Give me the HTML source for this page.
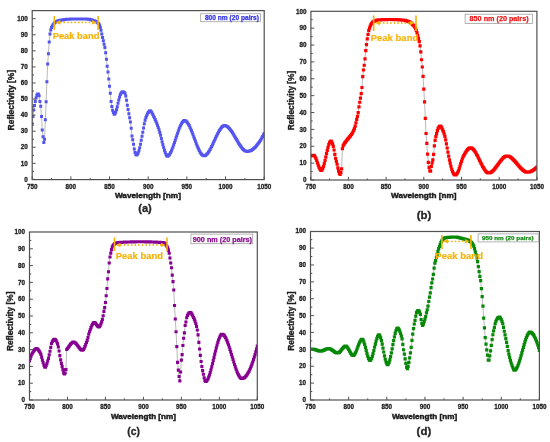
<!DOCTYPE html><html><head><meta charset="utf-8"><title>DBR reflectivity spectra</title><style>html,body{margin:0;padding:0;background:#fff;}svg{display:block;}</style></head><body>
<svg width="550" height="442" viewBox="0 0 550 442" font-family="Liberation Sans, Arial, sans-serif">
<rect width="550" height="442" fill="#fff"/>
<g id="panel-a">
<clipPath id="clip-a"><rect x="32.2" y="10.6" width="232.00" height="169.00"/></clipPath>
<g clip-path="url(#clip-a)">
<polyline points="32.20,124.50 32.97,116.53 33.75,110.12 34.52,105.52 35.29,101.51 36.07,97.90 36.84,95.32 37.61,93.90 38.39,93.90 39.16,95.84 39.93,101.44 40.71,106.35 41.48,116.57 42.25,129.93 43.03,136.87 43.80,142.45 44.57,139.29 45.35,119.85 46.12,101.71 46.89,81.76 47.67,64.07 48.44,53.73 49.21,41.95 49.99,33.90 50.76,29.94 51.53,27.61 52.31,26.04 53.08,24.83 53.85,23.74 54.63,22.83 55.40,22.20 56.17,21.77 56.95,21.40 57.72,21.08 58.49,20.80 59.27,20.57 60.04,20.37 60.81,20.20 61.59,20.04 62.36,19.90 63.13,19.77 63.91,19.65 64.68,19.55 65.45,19.45 66.23,19.37 67.00,19.31 67.77,19.25 68.55,19.19 69.32,19.14 70.09,19.08 70.87,19.04 71.64,18.99 72.41,18.96 73.19,18.93 73.96,18.91 74.73,18.90 75.51,18.90 76.28,18.90 77.05,18.90 77.83,18.90 78.60,18.90 79.37,18.90 80.15,18.90 80.92,18.90 81.69,18.90 82.47,18.90 83.24,18.91 84.01,18.93 84.79,18.96 85.56,19.00 86.33,19.04 87.11,19.09 87.88,19.14 88.65,19.20 89.43,19.31 90.20,19.48 90.97,19.69 91.75,19.94 92.52,20.20 93.29,20.47 94.07,20.74 94.84,21.05 95.61,21.40 96.39,21.81 97.16,22.31 97.93,22.94 98.71,23.80 99.48,25.12 100.25,27.26 101.03,30.23 101.80,34.04 102.57,37.41 103.35,40.66 104.12,44.22 104.89,47.56 105.67,52.85 106.44,59.36 107.21,66.16 107.99,71.92 108.76,78.89 109.53,86.20 110.31,93.35 111.08,101.39 111.85,106.62 112.63,110.26 113.40,112.56 114.17,114.13 114.95,114.05 115.72,112.22 116.49,109.67 117.27,106.78 118.04,103.26 118.81,99.89 119.59,96.96 120.36,94.53 121.13,93.10 121.91,92.15 122.68,91.80 123.45,91.99 124.23,92.47 125.00,93.24 125.77,95.99 126.55,100.20 127.32,105.28 128.09,109.52 128.87,113.82 129.64,117.65 130.41,122.03 131.19,128.33 131.96,136.07 132.73,139.69 133.51,144.34 134.28,148.90 135.05,152.55 135.83,154.51 136.60,154.93 137.37,154.26 138.15,152.99 138.92,150.75 139.69,147.79 140.47,144.13 141.24,140.33 142.01,136.19 142.79,132.29 143.56,128.04 144.33,123.84 145.11,120.30 145.88,117.51 146.65,115.66 147.43,113.96 148.20,112.52 148.97,111.45 149.75,110.87 150.52,110.93 151.29,111.72 152.07,113.03 152.84,114.62 153.61,116.24 154.39,117.75 155.16,119.40 155.93,121.21 156.71,123.14 157.48,125.19 158.25,127.40 159.03,129.81 159.80,132.39 160.57,135.21 161.35,138.45 162.12,141.71 162.89,144.67 163.67,147.55 164.44,150.17 165.21,152.38 165.99,154.60 166.76,156.11 167.53,156.24 168.31,155.81 169.08,155.03 169.85,153.93 170.63,152.53 171.40,150.89 172.17,149.04 172.95,147.01 173.72,144.84 174.49,142.57 175.27,140.23 176.04,137.87 176.81,135.51 177.59,133.21 178.36,130.98 179.13,128.87 179.91,126.93 180.68,125.17 181.45,123.65 182.23,122.39 183.00,121.44 183.77,120.83 184.55,120.60 185.32,120.74 186.09,121.19 186.87,121.93 187.64,122.92 188.41,124.15 189.19,125.57 189.96,127.18 190.73,128.93 191.51,130.81 192.28,132.78 193.05,134.83 193.83,136.91 194.60,139.02 195.37,141.11 196.15,143.17 196.92,145.16 197.69,147.06 198.47,148.84 199.24,150.48 200.01,151.95 200.79,153.22 201.56,154.27 202.33,155.07 203.11,155.58 203.88,155.80 204.65,155.71 205.43,155.39 206.20,154.85 206.97,154.11 207.75,153.19 208.52,152.11 209.29,150.89 210.07,149.54 210.84,148.09 211.61,146.55 212.39,144.95 213.16,143.29 213.93,141.61 214.71,139.92 215.48,138.24 216.25,136.58 217.03,134.97 217.80,133.43 218.57,131.97 219.35,130.61 220.12,129.38 220.89,128.29 221.67,127.36 222.44,126.60 223.21,126.04 223.99,125.71 224.76,125.60 225.53,125.70 226.31,125.98 227.08,126.41 227.85,126.99 228.63,127.70 229.40,128.53 230.17,129.47 230.95,130.50 231.72,131.61 232.49,132.80 233.27,134.03 234.04,135.32 234.81,136.63 235.59,137.96 236.36,139.29 237.13,140.62 237.91,141.93 238.68,143.20 239.45,144.43 240.23,145.60 241.00,146.70 241.77,147.72 242.55,148.64 243.32,149.44 244.09,150.13 244.87,150.68 245.64,151.09 246.41,151.33 247.19,151.40 247.96,151.35 248.73,151.22 249.51,151.02 250.28,150.74 251.05,150.38 251.83,149.94 252.60,149.43 253.37,148.85 254.15,148.20 254.92,147.47 255.69,146.68 256.47,145.81 257.24,144.87 258.01,143.87 258.79,142.80 259.56,141.66 260.33,140.46 261.11,139.19 261.88,137.86 262.65,136.47 263.43,135.02 264.20,133.50" fill="none" stroke="#8a8a8a" stroke-width="0.6"/>
<path d="M30.70 123.00h3.0v3.0h-3.0zM31.47 115.03h3.0v3.0h-3.0zM32.25 108.62h3.0v3.0h-3.0zM33.02 104.02h3.0v3.0h-3.0zM33.79 100.01h3.0v3.0h-3.0zM34.57 96.40h3.0v3.0h-3.0zM35.34 93.82h3.0v3.0h-3.0zM36.11 92.40h3.0v3.0h-3.0zM36.89 92.40h3.0v3.0h-3.0zM37.66 94.34h3.0v3.0h-3.0zM38.43 99.94h3.0v3.0h-3.0zM39.21 104.85h3.0v3.0h-3.0zM39.98 115.07h3.0v3.0h-3.0zM40.75 128.43h3.0v3.0h-3.0zM41.53 135.37h3.0v3.0h-3.0zM42.30 140.95h3.0v3.0h-3.0zM43.07 137.79h3.0v3.0h-3.0zM43.85 118.35h3.0v3.0h-3.0zM44.62 100.21h3.0v3.0h-3.0zM45.39 80.26h3.0v3.0h-3.0zM46.17 62.57h3.0v3.0h-3.0zM46.94 52.23h3.0v3.0h-3.0zM47.71 40.45h3.0v3.0h-3.0zM48.49 32.40h3.0v3.0h-3.0zM49.26 28.44h3.0v3.0h-3.0zM50.03 26.11h3.0v3.0h-3.0zM50.81 24.54h3.0v3.0h-3.0zM51.58 23.33h3.0v3.0h-3.0zM52.35 22.24h3.0v3.0h-3.0zM53.13 21.33h3.0v3.0h-3.0zM53.90 20.70h3.0v3.0h-3.0zM54.67 20.27h3.0v3.0h-3.0zM55.45 19.90h3.0v3.0h-3.0zM56.22 19.58h3.0v3.0h-3.0zM56.99 19.30h3.0v3.0h-3.0zM57.77 19.07h3.0v3.0h-3.0zM58.54 18.87h3.0v3.0h-3.0zM59.31 18.70h3.0v3.0h-3.0zM60.09 18.54h3.0v3.0h-3.0zM60.86 18.40h3.0v3.0h-3.0zM61.63 18.27h3.0v3.0h-3.0zM62.41 18.15h3.0v3.0h-3.0zM63.18 18.05h3.0v3.0h-3.0zM63.95 17.95h3.0v3.0h-3.0zM64.73 17.87h3.0v3.0h-3.0zM65.50 17.81h3.0v3.0h-3.0zM66.27 17.75h3.0v3.0h-3.0zM67.05 17.69h3.0v3.0h-3.0zM67.82 17.64h3.0v3.0h-3.0zM68.59 17.58h3.0v3.0h-3.0zM69.37 17.54h3.0v3.0h-3.0zM70.14 17.49h3.0v3.0h-3.0zM70.91 17.46h3.0v3.0h-3.0zM71.69 17.43h3.0v3.0h-3.0zM72.46 17.41h3.0v3.0h-3.0zM73.23 17.40h3.0v3.0h-3.0zM74.01 17.40h3.0v3.0h-3.0zM74.78 17.40h3.0v3.0h-3.0zM75.55 17.40h3.0v3.0h-3.0zM76.33 17.40h3.0v3.0h-3.0zM77.10 17.40h3.0v3.0h-3.0zM77.87 17.40h3.0v3.0h-3.0zM78.65 17.40h3.0v3.0h-3.0zM79.42 17.40h3.0v3.0h-3.0zM80.19 17.40h3.0v3.0h-3.0zM80.97 17.40h3.0v3.0h-3.0zM81.74 17.41h3.0v3.0h-3.0zM82.51 17.43h3.0v3.0h-3.0zM83.29 17.46h3.0v3.0h-3.0zM84.06 17.50h3.0v3.0h-3.0zM84.83 17.54h3.0v3.0h-3.0zM85.61 17.59h3.0v3.0h-3.0zM86.38 17.64h3.0v3.0h-3.0zM87.15 17.70h3.0v3.0h-3.0zM87.93 17.81h3.0v3.0h-3.0zM88.70 17.98h3.0v3.0h-3.0zM89.47 18.19h3.0v3.0h-3.0zM90.25 18.44h3.0v3.0h-3.0zM91.02 18.70h3.0v3.0h-3.0zM91.79 18.97h3.0v3.0h-3.0zM92.57 19.24h3.0v3.0h-3.0zM93.34 19.55h3.0v3.0h-3.0zM94.11 19.90h3.0v3.0h-3.0zM94.89 20.31h3.0v3.0h-3.0zM95.66 20.81h3.0v3.0h-3.0zM96.43 21.44h3.0v3.0h-3.0zM97.21 22.30h3.0v3.0h-3.0zM97.98 23.62h3.0v3.0h-3.0zM98.75 25.76h3.0v3.0h-3.0zM99.53 28.73h3.0v3.0h-3.0zM100.30 32.54h3.0v3.0h-3.0zM101.07 35.91h3.0v3.0h-3.0zM101.85 39.16h3.0v3.0h-3.0zM102.62 42.72h3.0v3.0h-3.0zM103.39 46.06h3.0v3.0h-3.0zM104.17 51.35h3.0v3.0h-3.0zM104.94 57.86h3.0v3.0h-3.0zM105.71 64.66h3.0v3.0h-3.0zM106.49 70.42h3.0v3.0h-3.0zM107.26 77.39h3.0v3.0h-3.0zM108.03 84.70h3.0v3.0h-3.0zM108.81 91.85h3.0v3.0h-3.0zM109.58 99.89h3.0v3.0h-3.0zM110.35 105.12h3.0v3.0h-3.0zM111.13 108.76h3.0v3.0h-3.0zM111.90 111.06h3.0v3.0h-3.0zM112.67 112.63h3.0v3.0h-3.0zM113.45 112.55h3.0v3.0h-3.0zM114.22 110.72h3.0v3.0h-3.0zM114.99 108.17h3.0v3.0h-3.0zM115.77 105.28h3.0v3.0h-3.0zM116.54 101.76h3.0v3.0h-3.0zM117.31 98.39h3.0v3.0h-3.0zM118.09 95.46h3.0v3.0h-3.0zM118.86 93.03h3.0v3.0h-3.0zM119.63 91.60h3.0v3.0h-3.0zM120.41 90.65h3.0v3.0h-3.0zM121.18 90.30h3.0v3.0h-3.0zM121.95 90.49h3.0v3.0h-3.0zM122.73 90.97h3.0v3.0h-3.0zM123.50 91.74h3.0v3.0h-3.0zM124.27 94.49h3.0v3.0h-3.0zM125.05 98.70h3.0v3.0h-3.0zM125.82 103.78h3.0v3.0h-3.0zM126.59 108.02h3.0v3.0h-3.0zM127.37 112.32h3.0v3.0h-3.0zM128.14 116.15h3.0v3.0h-3.0zM128.91 120.53h3.0v3.0h-3.0zM129.69 126.83h3.0v3.0h-3.0zM130.46 134.57h3.0v3.0h-3.0zM131.23 138.19h3.0v3.0h-3.0zM132.01 142.84h3.0v3.0h-3.0zM132.78 147.40h3.0v3.0h-3.0zM133.55 151.05h3.0v3.0h-3.0zM134.33 153.01h3.0v3.0h-3.0zM135.10 153.43h3.0v3.0h-3.0zM135.87 152.76h3.0v3.0h-3.0zM136.65 151.49h3.0v3.0h-3.0zM137.42 149.25h3.0v3.0h-3.0zM138.19 146.29h3.0v3.0h-3.0zM138.97 142.63h3.0v3.0h-3.0zM139.74 138.83h3.0v3.0h-3.0zM140.51 134.69h3.0v3.0h-3.0zM141.29 130.79h3.0v3.0h-3.0zM142.06 126.54h3.0v3.0h-3.0zM142.83 122.34h3.0v3.0h-3.0zM143.61 118.80h3.0v3.0h-3.0zM144.38 116.01h3.0v3.0h-3.0zM145.15 114.16h3.0v3.0h-3.0zM145.93 112.46h3.0v3.0h-3.0zM146.70 111.02h3.0v3.0h-3.0zM147.47 109.95h3.0v3.0h-3.0zM148.25 109.37h3.0v3.0h-3.0zM149.02 109.43h3.0v3.0h-3.0zM149.79 110.22h3.0v3.0h-3.0zM150.57 111.53h3.0v3.0h-3.0zM151.34 113.12h3.0v3.0h-3.0zM152.11 114.74h3.0v3.0h-3.0zM152.89 116.25h3.0v3.0h-3.0zM153.66 117.90h3.0v3.0h-3.0zM154.43 119.71h3.0v3.0h-3.0zM155.21 121.64h3.0v3.0h-3.0zM155.98 123.69h3.0v3.0h-3.0zM156.75 125.90h3.0v3.0h-3.0zM157.53 128.31h3.0v3.0h-3.0zM158.30 130.89h3.0v3.0h-3.0zM159.07 133.71h3.0v3.0h-3.0zM159.85 136.95h3.0v3.0h-3.0zM160.62 140.21h3.0v3.0h-3.0zM161.39 143.17h3.0v3.0h-3.0zM162.17 146.05h3.0v3.0h-3.0zM162.94 148.67h3.0v3.0h-3.0zM163.71 150.88h3.0v3.0h-3.0zM164.49 153.10h3.0v3.0h-3.0zM165.26 154.61h3.0v3.0h-3.0zM166.03 154.74h3.0v3.0h-3.0zM166.81 154.31h3.0v3.0h-3.0zM167.58 153.53h3.0v3.0h-3.0zM168.35 152.43h3.0v3.0h-3.0zM169.13 151.03h3.0v3.0h-3.0zM169.90 149.39h3.0v3.0h-3.0zM170.67 147.54h3.0v3.0h-3.0zM171.45 145.51h3.0v3.0h-3.0zM172.22 143.34h3.0v3.0h-3.0zM172.99 141.07h3.0v3.0h-3.0zM173.77 138.73h3.0v3.0h-3.0zM174.54 136.37h3.0v3.0h-3.0zM175.31 134.01h3.0v3.0h-3.0zM176.09 131.71h3.0v3.0h-3.0zM176.86 129.48h3.0v3.0h-3.0zM177.63 127.37h3.0v3.0h-3.0zM178.41 125.43h3.0v3.0h-3.0zM179.18 123.67h3.0v3.0h-3.0zM179.95 122.15h3.0v3.0h-3.0zM180.73 120.89h3.0v3.0h-3.0zM181.50 119.94h3.0v3.0h-3.0zM182.27 119.33h3.0v3.0h-3.0zM183.05 119.10h3.0v3.0h-3.0zM183.82 119.24h3.0v3.0h-3.0zM184.59 119.69h3.0v3.0h-3.0zM185.37 120.43h3.0v3.0h-3.0zM186.14 121.42h3.0v3.0h-3.0zM186.91 122.65h3.0v3.0h-3.0zM187.69 124.07h3.0v3.0h-3.0zM188.46 125.68h3.0v3.0h-3.0zM189.23 127.43h3.0v3.0h-3.0zM190.01 129.31h3.0v3.0h-3.0zM190.78 131.28h3.0v3.0h-3.0zM191.55 133.33h3.0v3.0h-3.0zM192.33 135.41h3.0v3.0h-3.0zM193.10 137.52h3.0v3.0h-3.0zM193.87 139.61h3.0v3.0h-3.0zM194.65 141.67h3.0v3.0h-3.0zM195.42 143.66h3.0v3.0h-3.0zM196.19 145.56h3.0v3.0h-3.0zM196.97 147.34h3.0v3.0h-3.0zM197.74 148.98h3.0v3.0h-3.0zM198.51 150.45h3.0v3.0h-3.0zM199.29 151.72h3.0v3.0h-3.0zM200.06 152.77h3.0v3.0h-3.0zM200.83 153.57h3.0v3.0h-3.0zM201.61 154.08h3.0v3.0h-3.0zM202.38 154.30h3.0v3.0h-3.0zM203.15 154.21h3.0v3.0h-3.0zM203.93 153.89h3.0v3.0h-3.0zM204.70 153.35h3.0v3.0h-3.0zM205.47 152.61h3.0v3.0h-3.0zM206.25 151.69h3.0v3.0h-3.0zM207.02 150.61h3.0v3.0h-3.0zM207.79 149.39h3.0v3.0h-3.0zM208.57 148.04h3.0v3.0h-3.0zM209.34 146.59h3.0v3.0h-3.0zM210.11 145.05h3.0v3.0h-3.0zM210.89 143.45h3.0v3.0h-3.0zM211.66 141.79h3.0v3.0h-3.0zM212.43 140.11h3.0v3.0h-3.0zM213.21 138.42h3.0v3.0h-3.0zM213.98 136.74h3.0v3.0h-3.0zM214.75 135.08h3.0v3.0h-3.0zM215.53 133.47h3.0v3.0h-3.0zM216.30 131.93h3.0v3.0h-3.0zM217.07 130.47h3.0v3.0h-3.0zM217.85 129.11h3.0v3.0h-3.0zM218.62 127.88h3.0v3.0h-3.0zM219.39 126.79h3.0v3.0h-3.0zM220.17 125.86h3.0v3.0h-3.0zM220.94 125.10h3.0v3.0h-3.0zM221.71 124.54h3.0v3.0h-3.0zM222.49 124.21h3.0v3.0h-3.0zM223.26 124.10h3.0v3.0h-3.0zM224.03 124.20h3.0v3.0h-3.0zM224.81 124.48h3.0v3.0h-3.0zM225.58 124.91h3.0v3.0h-3.0zM226.35 125.49h3.0v3.0h-3.0zM227.13 126.20h3.0v3.0h-3.0zM227.90 127.03h3.0v3.0h-3.0zM228.67 127.97h3.0v3.0h-3.0zM229.45 129.00h3.0v3.0h-3.0zM230.22 130.11h3.0v3.0h-3.0zM230.99 131.30h3.0v3.0h-3.0zM231.77 132.53h3.0v3.0h-3.0zM232.54 133.82h3.0v3.0h-3.0zM233.31 135.13h3.0v3.0h-3.0zM234.09 136.46h3.0v3.0h-3.0zM234.86 137.79h3.0v3.0h-3.0zM235.63 139.12h3.0v3.0h-3.0zM236.41 140.43h3.0v3.0h-3.0zM237.18 141.70h3.0v3.0h-3.0zM237.95 142.93h3.0v3.0h-3.0zM238.73 144.10h3.0v3.0h-3.0zM239.50 145.20h3.0v3.0h-3.0zM240.27 146.22h3.0v3.0h-3.0zM241.05 147.14h3.0v3.0h-3.0zM241.82 147.94h3.0v3.0h-3.0zM242.59 148.63h3.0v3.0h-3.0zM243.37 149.18h3.0v3.0h-3.0zM244.14 149.59h3.0v3.0h-3.0zM244.91 149.83h3.0v3.0h-3.0zM245.69 149.90h3.0v3.0h-3.0zM246.46 149.85h3.0v3.0h-3.0zM247.23 149.72h3.0v3.0h-3.0zM248.01 149.52h3.0v3.0h-3.0zM248.78 149.24h3.0v3.0h-3.0zM249.55 148.88h3.0v3.0h-3.0zM250.33 148.44h3.0v3.0h-3.0zM251.10 147.93h3.0v3.0h-3.0zM251.87 147.35h3.0v3.0h-3.0zM252.65 146.70h3.0v3.0h-3.0zM253.42 145.97h3.0v3.0h-3.0zM254.19 145.18h3.0v3.0h-3.0zM254.97 144.31h3.0v3.0h-3.0zM255.74 143.37h3.0v3.0h-3.0zM256.51 142.37h3.0v3.0h-3.0zM257.29 141.30h3.0v3.0h-3.0zM258.06 140.16h3.0v3.0h-3.0zM258.83 138.96h3.0v3.0h-3.0zM259.61 137.69h3.0v3.0h-3.0zM260.38 136.36h3.0v3.0h-3.0zM261.15 134.97h3.0v3.0h-3.0zM261.93 133.52h3.0v3.0h-3.0zM262.70 132.00h3.0v3.0h-3.0z" fill="#5454f0"/>
</g>
<rect x="32.2" y="10.6" width="232.00" height="169.00" fill="none" stroke="#505050" stroke-width="1.2"/>
<path d="M32.20 179.40h3.4M32.20 171.37h1.8M32.20 163.33h3.4M32.20 155.30h1.8M32.20 147.26h3.4M32.20 139.23h1.8M32.20 131.19h3.4M32.20 123.16h1.8M32.20 115.12h3.4M32.20 107.09h1.8M32.20 99.05h3.4M32.20 91.02h1.8M32.20 82.98h3.4M32.20 74.95h1.8M32.20 66.91h3.4M32.20 58.88h1.8M32.20 50.84h3.4M32.20 42.81h1.8M32.20 34.77h3.4M32.20 26.74h1.8M32.20 18.70h3.4M32.20 179.60v-3.2M51.53 179.60v-1.6M70.87 179.60v-3.2M90.20 179.60v-1.6M109.53 179.60v-3.2M128.87 179.60v-1.6M148.20 179.60v-3.2M167.53 179.60v-1.6M186.87 179.60v-3.2M206.20 179.60v-1.6M225.53 179.60v-3.2M244.87 179.60v-1.6M264.20 179.60v-3.2" stroke="#505050" stroke-width="1" fill="none"/>
<g font-size="6.3" font-weight="bold" fill="#1c1c1c" stroke="#1c1c1c" stroke-width="0.28">
<text x="27.80" y="181.60" text-anchor="end">0</text>
<text x="27.80" y="165.53" text-anchor="end">10</text>
<text x="27.80" y="149.46" text-anchor="end">20</text>
<text x="27.80" y="133.39" text-anchor="end">30</text>
<text x="27.80" y="117.32" text-anchor="end">40</text>
<text x="27.80" y="101.25" text-anchor="end">50</text>
<text x="27.80" y="85.18" text-anchor="end">60</text>
<text x="27.80" y="69.11" text-anchor="end">70</text>
<text x="27.80" y="53.04" text-anchor="end">80</text>
<text x="27.80" y="36.97" text-anchor="end">90</text>
<text x="27.80" y="20.90" text-anchor="end">100</text>
<text x="32.20" y="188.70" text-anchor="middle">750</text>
<text x="70.87" y="188.70" text-anchor="middle">800</text>
<text x="109.53" y="188.70" text-anchor="middle">850</text>
<text x="148.20" y="188.70" text-anchor="middle">900</text>
<text x="186.87" y="188.70" text-anchor="middle">950</text>
<text x="225.53" y="188.70" text-anchor="middle">1000</text>
<text x="264.20" y="188.70" text-anchor="middle">1050</text>
</g>
<text x="114.9" y="198.10" font-size="7.7" font-weight="bold" fill="#1c1c1c" stroke="#1c1c1c" stroke-width="0.45" textLength="66.0" lengthAdjust="spacingAndGlyphs">Wavelength [nm]</text>
<text transform="translate(13.60,100.10) rotate(-90)" x="0" y="0" font-size="8.4" font-weight="bold" fill="#1c1c1c" stroke="#1c1c1c" stroke-width="0.35" text-anchor="middle" textLength="60.6" lengthAdjust="spacingAndGlyphs">Reflectivity [%]</text>
<text x="138.2" y="211.9" font-size="11" font-weight="bold" fill="#262626" stroke="#262626" stroke-width="0.3" textLength="13.6" lengthAdjust="spacingAndGlyphs">(a)</text>
<rect x="200.7" y="13.7" width="59.80" height="8.00" fill="#fff" stroke="#a0a0a0" stroke-width="0.8"/>
<text x="204.9" y="19.6" font-size="6.4" font-weight="bold" fill="#3434e6" stroke="#3434e6" stroke-width="0.25" textLength="54.1" lengthAdjust="spacingAndGlyphs">800 nm (20 pairs)</text>
<g stroke="#f7b30a" fill="#f7b30a">
<path d="M54.3 16.1V30.1M98.1 16.1V30.1" stroke-width="1.6" fill="none"/>
<path d="M60.70 22.4H93.10" stroke-width="1.8" stroke-linecap="round" stroke-dasharray="0 3.6" fill="none"/>
<path d="M55.70 22.4l4.6 -2.3v4.6z M96.70 22.4l-4.6 -2.3v4.6z" stroke="none"/>
</g>
<text x="52.7" y="38.7" font-size="9.2" font-weight="bold" fill="#f7b30a" stroke="#f7b30a" stroke-width="0.2" textLength="46.7" lengthAdjust="spacingAndGlyphs">Peak band</text>
</g>
<g id="panel-b">
<clipPath id="clip-b"><rect x="310.9" y="11.3" width="226.00" height="168.70"/></clipPath>
<g clip-path="url(#clip-b)">
<polyline points="310.70,155.90 311.45,155.54 312.21,155.37 312.96,155.31 313.72,155.31 314.47,155.83 315.22,157.02 315.98,158.71 316.73,160.73 317.49,162.91 318.24,165.08 318.99,167.07 319.75,168.72 320.50,169.85 321.26,170.30 322.01,169.84 322.76,168.46 323.52,166.33 324.27,163.61 325.03,160.48 325.78,157.11 326.53,153.67 327.29,150.32 328.04,147.24 328.80,144.61 329.55,142.58 330.30,141.32 331.06,141.03 331.81,141.98 332.57,143.90 333.32,146.38 334.07,149.99 334.83,154.42 335.58,158.27 336.34,161.26 337.09,164.24 337.84,167.81 338.60,171.12 339.35,173.37 340.11,174.40 340.86,172.58 341.61,168.86 342.37,148.77 343.12,145.95 343.88,144.32 344.63,143.09 345.38,142.10 346.14,141.17 346.89,140.17 347.65,139.19 348.40,138.30 349.15,137.45 349.91,136.58 350.66,135.62 351.42,134.52 352.17,133.32 352.92,131.99 353.68,130.46 354.43,128.64 355.19,126.17 355.94,122.73 356.69,119.47 357.45,116.39 358.20,112.59 358.96,106.91 359.71,102.26 360.46,98.13 361.22,93.69 361.97,87.52 362.73,76.59 363.48,69.99 364.23,65.27 364.99,58.97 365.74,50.69 366.50,44.63 367.25,38.87 368.00,34.52 368.76,30.57 369.51,28.05 370.27,26.06 371.02,24.36 371.77,23.27 372.53,22.42 373.28,21.75 374.04,21.28 374.79,20.93 375.54,20.62 376.30,20.36 377.05,20.16 377.81,20.03 378.56,19.96 379.31,19.90 380.07,19.85 380.82,19.80 381.58,19.75 382.33,19.71 383.08,19.67 383.84,19.63 384.59,19.60 385.35,19.58 386.10,19.55 386.85,19.53 387.61,19.52 388.36,19.51 389.12,19.50 389.87,19.50 390.62,19.50 391.38,19.51 392.13,19.52 392.89,19.53 393.64,19.55 394.39,19.58 395.15,19.61 395.90,19.64 396.66,19.68 397.41,19.72 398.16,19.77 398.92,19.81 399.67,19.87 400.43,19.92 401.18,19.98 401.93,20.05 402.69,20.11 403.44,20.18 404.20,20.27 404.95,20.40 405.70,20.57 406.46,20.78 407.21,21.02 407.97,21.29 408.72,21.58 409.47,21.93 410.23,22.39 410.98,22.95 411.74,23.59 412.49,24.28 413.24,25.04 414.00,25.93 414.75,27.02 415.51,28.43 416.26,30.45 417.01,32.82 417.77,35.53 418.52,38.59 419.28,41.64 420.03,45.80 420.78,51.86 421.54,59.75 422.29,67.02 423.05,76.40 423.80,89.03 424.55,101.82 425.31,118.46 426.06,133.50 426.82,143.28 427.57,154.14 428.32,162.45 429.08,167.45 429.83,170.97 430.59,171.03 431.34,166.50 432.09,163.21 432.85,159.85 433.60,154.38 434.36,145.97 435.11,140.41 435.86,136.61 436.62,133.63 437.37,130.62 438.13,128.33 438.88,127.15 439.63,126.29 440.39,126.01 441.14,126.66 441.90,128.06 442.65,129.83 443.40,131.64 444.16,133.82 444.91,136.47 445.67,139.80 446.42,143.97 447.17,148.01 447.93,152.05 448.68,156.09 449.44,159.80 450.19,163.10 450.94,166.24 451.70,169.26 452.45,171.41 453.21,173.17 453.96,174.27 454.71,174.79 455.47,175.00 456.22,174.56 456.98,173.56 457.73,172.26 458.48,170.78 459.24,168.58 459.99,166.01 460.75,163.56 461.50,161.29 462.25,159.01 463.01,157.01 463.76,155.54 464.52,154.24 465.27,152.97 466.02,151.77 466.78,150.67 467.53,149.71 468.29,148.91 469.04,148.30 469.79,147.92 470.55,147.80 471.30,147.94 472.06,148.32 472.81,148.90 473.56,149.68 474.32,150.63 475.07,151.73 475.83,152.96 476.58,154.30 477.33,155.72 478.09,157.20 478.84,158.74 479.60,160.29 480.35,161.84 481.10,163.38 481.86,164.87 482.61,166.30 483.37,167.65 484.12,168.90 484.87,170.02 485.63,170.99 486.38,171.80 487.14,172.41 487.89,172.82 488.64,172.99 489.40,172.95 490.15,172.74 490.91,172.38 491.66,171.88 492.41,171.27 493.17,170.56 493.92,169.75 494.68,168.87 495.43,167.92 496.18,166.93 496.94,165.90 497.69,164.86 498.45,163.81 499.20,162.77 499.95,161.75 500.71,160.77 501.46,159.85 502.22,158.99 502.97,158.21 503.72,157.52 504.48,156.95 505.23,156.50 505.99,156.18 506.74,156.02 507.49,156.02 508.25,156.15 509.00,156.40 509.76,156.75 510.51,157.21 511.26,157.75 512.02,158.37 512.77,159.06 513.53,159.81 514.28,160.61 515.03,161.45 515.79,162.31 516.54,163.20 517.30,164.10 518.05,164.99 518.80,165.88 519.56,166.75 520.31,167.58 521.07,168.38 521.82,169.13 522.57,169.82 523.33,170.44 524.08,170.99 524.84,171.44 525.59,171.80 526.34,172.05 527.10,172.18 527.85,172.19 528.61,172.12 529.36,171.97 530.11,171.75 530.87,171.46 531.62,171.11 532.38,170.70 533.13,170.23 533.88,169.70 534.64,169.12 535.39,168.49 536.15,167.82 536.90,167.10" fill="none" stroke="#8a8a8a" stroke-width="0.6"/>
<path d="M309.10 154.30h3.2v3.2h-3.2zM309.85 153.94h3.2v3.2h-3.2zM310.61 153.77h3.2v3.2h-3.2zM311.36 153.71h3.2v3.2h-3.2zM312.12 153.71h3.2v3.2h-3.2zM312.87 154.23h3.2v3.2h-3.2zM313.62 155.42h3.2v3.2h-3.2zM314.38 157.11h3.2v3.2h-3.2zM315.13 159.13h3.2v3.2h-3.2zM315.89 161.31h3.2v3.2h-3.2zM316.64 163.48h3.2v3.2h-3.2zM317.39 165.47h3.2v3.2h-3.2zM318.15 167.12h3.2v3.2h-3.2zM318.90 168.25h3.2v3.2h-3.2zM319.66 168.70h3.2v3.2h-3.2zM320.41 168.24h3.2v3.2h-3.2zM321.16 166.86h3.2v3.2h-3.2zM321.92 164.73h3.2v3.2h-3.2zM322.67 162.01h3.2v3.2h-3.2zM323.43 158.88h3.2v3.2h-3.2zM324.18 155.51h3.2v3.2h-3.2zM324.93 152.07h3.2v3.2h-3.2zM325.69 148.72h3.2v3.2h-3.2zM326.44 145.64h3.2v3.2h-3.2zM327.20 143.01h3.2v3.2h-3.2zM327.95 140.98h3.2v3.2h-3.2zM328.70 139.72h3.2v3.2h-3.2zM329.46 139.43h3.2v3.2h-3.2zM330.21 140.38h3.2v3.2h-3.2zM330.97 142.30h3.2v3.2h-3.2zM331.72 144.78h3.2v3.2h-3.2zM332.47 148.39h3.2v3.2h-3.2zM333.23 152.82h3.2v3.2h-3.2zM333.98 156.67h3.2v3.2h-3.2zM334.74 159.66h3.2v3.2h-3.2zM335.49 162.64h3.2v3.2h-3.2zM336.24 166.21h3.2v3.2h-3.2zM337.00 169.52h3.2v3.2h-3.2zM337.75 171.77h3.2v3.2h-3.2zM338.51 172.80h3.2v3.2h-3.2zM339.26 170.98h3.2v3.2h-3.2zM340.01 167.26h3.2v3.2h-3.2zM340.77 147.17h3.2v3.2h-3.2zM341.52 144.35h3.2v3.2h-3.2zM342.28 142.72h3.2v3.2h-3.2zM343.03 141.49h3.2v3.2h-3.2zM343.78 140.50h3.2v3.2h-3.2zM344.54 139.57h3.2v3.2h-3.2zM345.29 138.57h3.2v3.2h-3.2zM346.05 137.59h3.2v3.2h-3.2zM346.80 136.70h3.2v3.2h-3.2zM347.55 135.85h3.2v3.2h-3.2zM348.31 134.98h3.2v3.2h-3.2zM349.06 134.02h3.2v3.2h-3.2zM349.82 132.92h3.2v3.2h-3.2zM350.57 131.72h3.2v3.2h-3.2zM351.32 130.39h3.2v3.2h-3.2zM352.08 128.86h3.2v3.2h-3.2zM352.83 127.04h3.2v3.2h-3.2zM353.59 124.57h3.2v3.2h-3.2zM354.34 121.13h3.2v3.2h-3.2zM355.09 117.87h3.2v3.2h-3.2zM355.85 114.79h3.2v3.2h-3.2zM356.60 110.99h3.2v3.2h-3.2zM357.36 105.31h3.2v3.2h-3.2zM358.11 100.66h3.2v3.2h-3.2zM358.86 96.53h3.2v3.2h-3.2zM359.62 92.09h3.2v3.2h-3.2zM360.37 85.92h3.2v3.2h-3.2zM361.13 74.99h3.2v3.2h-3.2zM361.88 68.39h3.2v3.2h-3.2zM362.63 63.67h3.2v3.2h-3.2zM363.39 57.37h3.2v3.2h-3.2zM364.14 49.09h3.2v3.2h-3.2zM364.90 43.03h3.2v3.2h-3.2zM365.65 37.27h3.2v3.2h-3.2zM366.40 32.92h3.2v3.2h-3.2zM367.16 28.97h3.2v3.2h-3.2zM367.91 26.45h3.2v3.2h-3.2zM368.67 24.46h3.2v3.2h-3.2zM369.42 22.76h3.2v3.2h-3.2zM370.17 21.67h3.2v3.2h-3.2zM370.93 20.82h3.2v3.2h-3.2zM371.68 20.15h3.2v3.2h-3.2zM372.44 19.68h3.2v3.2h-3.2zM373.19 19.33h3.2v3.2h-3.2zM373.94 19.02h3.2v3.2h-3.2zM374.70 18.76h3.2v3.2h-3.2zM375.45 18.56h3.2v3.2h-3.2zM376.21 18.43h3.2v3.2h-3.2zM376.96 18.36h3.2v3.2h-3.2zM377.71 18.30h3.2v3.2h-3.2zM378.47 18.25h3.2v3.2h-3.2zM379.22 18.20h3.2v3.2h-3.2zM379.98 18.15h3.2v3.2h-3.2zM380.73 18.11h3.2v3.2h-3.2zM381.48 18.07h3.2v3.2h-3.2zM382.24 18.03h3.2v3.2h-3.2zM382.99 18.00h3.2v3.2h-3.2zM383.75 17.98h3.2v3.2h-3.2zM384.50 17.95h3.2v3.2h-3.2zM385.25 17.93h3.2v3.2h-3.2zM386.01 17.92h3.2v3.2h-3.2zM386.76 17.91h3.2v3.2h-3.2zM387.52 17.90h3.2v3.2h-3.2zM388.27 17.90h3.2v3.2h-3.2zM389.02 17.90h3.2v3.2h-3.2zM389.78 17.91h3.2v3.2h-3.2zM390.53 17.92h3.2v3.2h-3.2zM391.29 17.93h3.2v3.2h-3.2zM392.04 17.95h3.2v3.2h-3.2zM392.79 17.98h3.2v3.2h-3.2zM393.55 18.01h3.2v3.2h-3.2zM394.30 18.04h3.2v3.2h-3.2zM395.06 18.08h3.2v3.2h-3.2zM395.81 18.12h3.2v3.2h-3.2zM396.56 18.17h3.2v3.2h-3.2zM397.32 18.21h3.2v3.2h-3.2zM398.07 18.27h3.2v3.2h-3.2zM398.83 18.32h3.2v3.2h-3.2zM399.58 18.38h3.2v3.2h-3.2zM400.33 18.45h3.2v3.2h-3.2zM401.09 18.51h3.2v3.2h-3.2zM401.84 18.58h3.2v3.2h-3.2zM402.60 18.67h3.2v3.2h-3.2zM403.35 18.80h3.2v3.2h-3.2zM404.10 18.97h3.2v3.2h-3.2zM404.86 19.18h3.2v3.2h-3.2zM405.61 19.42h3.2v3.2h-3.2zM406.37 19.69h3.2v3.2h-3.2zM407.12 19.98h3.2v3.2h-3.2zM407.87 20.33h3.2v3.2h-3.2zM408.63 20.79h3.2v3.2h-3.2zM409.38 21.35h3.2v3.2h-3.2zM410.14 21.99h3.2v3.2h-3.2zM410.89 22.68h3.2v3.2h-3.2zM411.64 23.44h3.2v3.2h-3.2zM412.40 24.33h3.2v3.2h-3.2zM413.15 25.42h3.2v3.2h-3.2zM413.91 26.83h3.2v3.2h-3.2zM414.66 28.85h3.2v3.2h-3.2zM415.41 31.22h3.2v3.2h-3.2zM416.17 33.93h3.2v3.2h-3.2zM416.92 36.99h3.2v3.2h-3.2zM417.68 40.04h3.2v3.2h-3.2zM418.43 44.20h3.2v3.2h-3.2zM419.18 50.26h3.2v3.2h-3.2zM419.94 58.15h3.2v3.2h-3.2zM420.69 65.42h3.2v3.2h-3.2zM421.45 74.80h3.2v3.2h-3.2zM422.20 87.43h3.2v3.2h-3.2zM422.95 100.22h3.2v3.2h-3.2zM423.71 116.86h3.2v3.2h-3.2zM424.46 131.90h3.2v3.2h-3.2zM425.22 141.68h3.2v3.2h-3.2zM425.97 152.54h3.2v3.2h-3.2zM426.72 160.85h3.2v3.2h-3.2zM427.48 165.85h3.2v3.2h-3.2zM428.23 169.37h3.2v3.2h-3.2zM428.99 169.43h3.2v3.2h-3.2zM429.74 164.90h3.2v3.2h-3.2zM430.49 161.61h3.2v3.2h-3.2zM431.25 158.25h3.2v3.2h-3.2zM432.00 152.78h3.2v3.2h-3.2zM432.76 144.37h3.2v3.2h-3.2zM433.51 138.81h3.2v3.2h-3.2zM434.26 135.01h3.2v3.2h-3.2zM435.02 132.03h3.2v3.2h-3.2zM435.77 129.02h3.2v3.2h-3.2zM436.53 126.73h3.2v3.2h-3.2zM437.28 125.55h3.2v3.2h-3.2zM438.03 124.69h3.2v3.2h-3.2zM438.79 124.41h3.2v3.2h-3.2zM439.54 125.06h3.2v3.2h-3.2zM440.30 126.46h3.2v3.2h-3.2zM441.05 128.23h3.2v3.2h-3.2zM441.80 130.04h3.2v3.2h-3.2zM442.56 132.22h3.2v3.2h-3.2zM443.31 134.87h3.2v3.2h-3.2zM444.07 138.20h3.2v3.2h-3.2zM444.82 142.37h3.2v3.2h-3.2zM445.57 146.41h3.2v3.2h-3.2zM446.33 150.45h3.2v3.2h-3.2zM447.08 154.49h3.2v3.2h-3.2zM447.84 158.20h3.2v3.2h-3.2zM448.59 161.50h3.2v3.2h-3.2zM449.34 164.64h3.2v3.2h-3.2zM450.10 167.66h3.2v3.2h-3.2zM450.85 169.81h3.2v3.2h-3.2zM451.61 171.57h3.2v3.2h-3.2zM452.36 172.67h3.2v3.2h-3.2zM453.11 173.19h3.2v3.2h-3.2zM453.87 173.40h3.2v3.2h-3.2zM454.62 172.96h3.2v3.2h-3.2zM455.38 171.96h3.2v3.2h-3.2zM456.13 170.66h3.2v3.2h-3.2zM456.88 169.18h3.2v3.2h-3.2zM457.64 166.98h3.2v3.2h-3.2zM458.39 164.41h3.2v3.2h-3.2zM459.15 161.96h3.2v3.2h-3.2zM459.90 159.69h3.2v3.2h-3.2zM460.65 157.41h3.2v3.2h-3.2zM461.41 155.41h3.2v3.2h-3.2zM462.16 153.94h3.2v3.2h-3.2zM462.92 152.64h3.2v3.2h-3.2zM463.67 151.37h3.2v3.2h-3.2zM464.42 150.17h3.2v3.2h-3.2zM465.18 149.07h3.2v3.2h-3.2zM465.93 148.11h3.2v3.2h-3.2zM466.69 147.31h3.2v3.2h-3.2zM467.44 146.70h3.2v3.2h-3.2zM468.19 146.32h3.2v3.2h-3.2zM468.95 146.20h3.2v3.2h-3.2zM469.70 146.34h3.2v3.2h-3.2zM470.46 146.72h3.2v3.2h-3.2zM471.21 147.30h3.2v3.2h-3.2zM471.96 148.08h3.2v3.2h-3.2zM472.72 149.03h3.2v3.2h-3.2zM473.47 150.13h3.2v3.2h-3.2zM474.23 151.36h3.2v3.2h-3.2zM474.98 152.70h3.2v3.2h-3.2zM475.73 154.12h3.2v3.2h-3.2zM476.49 155.60h3.2v3.2h-3.2zM477.24 157.14h3.2v3.2h-3.2zM478.00 158.69h3.2v3.2h-3.2zM478.75 160.24h3.2v3.2h-3.2zM479.50 161.78h3.2v3.2h-3.2zM480.26 163.27h3.2v3.2h-3.2zM481.01 164.70h3.2v3.2h-3.2zM481.77 166.05h3.2v3.2h-3.2zM482.52 167.30h3.2v3.2h-3.2zM483.27 168.42h3.2v3.2h-3.2zM484.03 169.39h3.2v3.2h-3.2zM484.78 170.20h3.2v3.2h-3.2zM485.54 170.81h3.2v3.2h-3.2zM486.29 171.22h3.2v3.2h-3.2zM487.04 171.39h3.2v3.2h-3.2zM487.80 171.35h3.2v3.2h-3.2zM488.55 171.14h3.2v3.2h-3.2zM489.31 170.78h3.2v3.2h-3.2zM490.06 170.28h3.2v3.2h-3.2zM490.81 169.67h3.2v3.2h-3.2zM491.57 168.96h3.2v3.2h-3.2zM492.32 168.15h3.2v3.2h-3.2zM493.08 167.27h3.2v3.2h-3.2zM493.83 166.32h3.2v3.2h-3.2zM494.58 165.33h3.2v3.2h-3.2zM495.34 164.30h3.2v3.2h-3.2zM496.09 163.26h3.2v3.2h-3.2zM496.85 162.21h3.2v3.2h-3.2zM497.60 161.17h3.2v3.2h-3.2zM498.35 160.15h3.2v3.2h-3.2zM499.11 159.17h3.2v3.2h-3.2zM499.86 158.25h3.2v3.2h-3.2zM500.62 157.39h3.2v3.2h-3.2zM501.37 156.61h3.2v3.2h-3.2zM502.12 155.92h3.2v3.2h-3.2zM502.88 155.35h3.2v3.2h-3.2zM503.63 154.90h3.2v3.2h-3.2zM504.39 154.58h3.2v3.2h-3.2zM505.14 154.42h3.2v3.2h-3.2zM505.89 154.42h3.2v3.2h-3.2zM506.65 154.55h3.2v3.2h-3.2zM507.40 154.80h3.2v3.2h-3.2zM508.16 155.15h3.2v3.2h-3.2zM508.91 155.61h3.2v3.2h-3.2zM509.66 156.15h3.2v3.2h-3.2zM510.42 156.77h3.2v3.2h-3.2zM511.17 157.46h3.2v3.2h-3.2zM511.93 158.21h3.2v3.2h-3.2zM512.68 159.01h3.2v3.2h-3.2zM513.43 159.85h3.2v3.2h-3.2zM514.19 160.71h3.2v3.2h-3.2zM514.94 161.60h3.2v3.2h-3.2zM515.70 162.50h3.2v3.2h-3.2zM516.45 163.39h3.2v3.2h-3.2zM517.20 164.28h3.2v3.2h-3.2zM517.96 165.15h3.2v3.2h-3.2zM518.71 165.98h3.2v3.2h-3.2zM519.47 166.78h3.2v3.2h-3.2zM520.22 167.53h3.2v3.2h-3.2zM520.97 168.22h3.2v3.2h-3.2zM521.73 168.84h3.2v3.2h-3.2zM522.48 169.39h3.2v3.2h-3.2zM523.24 169.84h3.2v3.2h-3.2zM523.99 170.20h3.2v3.2h-3.2zM524.74 170.45h3.2v3.2h-3.2zM525.50 170.58h3.2v3.2h-3.2zM526.25 170.59h3.2v3.2h-3.2zM527.01 170.52h3.2v3.2h-3.2zM527.76 170.37h3.2v3.2h-3.2zM528.51 170.15h3.2v3.2h-3.2zM529.27 169.86h3.2v3.2h-3.2zM530.02 169.51h3.2v3.2h-3.2zM530.78 169.10h3.2v3.2h-3.2zM531.53 168.63h3.2v3.2h-3.2zM532.28 168.10h3.2v3.2h-3.2zM533.04 167.52h3.2v3.2h-3.2zM533.79 166.89h3.2v3.2h-3.2zM534.55 166.22h3.2v3.2h-3.2zM535.30 165.50h3.2v3.2h-3.2z" fill="#ff0000"/>
</g>
<rect x="310.9" y="11.3" width="226.00" height="168.70" fill="none" stroke="#505050" stroke-width="1.2"/>
<path d="M310.90 180.00h3.4M310.90 171.56h1.8M310.90 163.13h3.4M310.90 154.69h1.8M310.90 146.26h3.4M310.90 137.82h1.8M310.90 129.39h3.4M310.90 120.95h1.8M310.90 112.52h3.4M310.90 104.08h1.8M310.90 95.65h3.4M310.90 87.22h1.8M310.90 78.78h3.4M310.90 70.34h1.8M310.90 61.91h3.4M310.90 53.47h1.8M310.90 45.04h3.4M310.90 36.60h1.8M310.90 28.17h3.4M310.90 19.73h1.8M310.70 180.00v-3.2M329.55 180.00v-1.6M348.40 180.00v-3.2M367.25 180.00v-1.6M386.10 180.00v-3.2M404.95 180.00v-1.6M423.80 180.00v-3.2M442.65 180.00v-1.6M461.50 180.00v-3.2M480.35 180.00v-1.6M499.20 180.00v-3.2M518.05 180.00v-1.6M536.90 180.00v-3.2" stroke="#505050" stroke-width="1" fill="none"/>
<g font-size="6.3" font-weight="bold" fill="#1c1c1c" stroke="#1c1c1c" stroke-width="0.28">
<text x="306.50" y="182.20" text-anchor="end">0</text>
<text x="306.50" y="165.33" text-anchor="end">10</text>
<text x="306.50" y="148.46" text-anchor="end">20</text>
<text x="306.50" y="131.59" text-anchor="end">30</text>
<text x="306.50" y="114.72" text-anchor="end">40</text>
<text x="306.50" y="97.85" text-anchor="end">50</text>
<text x="306.50" y="80.98" text-anchor="end">60</text>
<text x="306.50" y="64.11" text-anchor="end">70</text>
<text x="306.50" y="47.24" text-anchor="end">80</text>
<text x="306.50" y="30.37" text-anchor="end">90</text>
<text x="306.50" y="13.50" text-anchor="end">100</text>
<text x="310.70" y="188.70" text-anchor="middle">750</text>
<text x="348.40" y="188.70" text-anchor="middle">800</text>
<text x="386.10" y="188.70" text-anchor="middle">850</text>
<text x="423.80" y="188.70" text-anchor="middle">900</text>
<text x="461.50" y="188.70" text-anchor="middle">950</text>
<text x="499.20" y="188.70" text-anchor="middle">1000</text>
<text x="536.90" y="188.70" text-anchor="middle">1050</text>
</g>
<text x="391.0" y="198.30" font-size="7.7" font-weight="bold" fill="#1c1c1c" stroke="#1c1c1c" stroke-width="0.45" textLength="65.4" lengthAdjust="spacingAndGlyphs">Wavelength [nm]</text>
<text transform="translate(293.70,100.50) rotate(-90)" x="0" y="0" font-size="8.4" font-weight="bold" fill="#1c1c1c" stroke="#1c1c1c" stroke-width="0.35" text-anchor="middle" textLength="59.5" lengthAdjust="spacingAndGlyphs">Reflectivity [%]</text>
<text x="416.8" y="219.2" font-size="11" font-weight="bold" fill="#262626" stroke="#262626" stroke-width="0.3" textLength="14.6" lengthAdjust="spacingAndGlyphs">(b)</text>
<rect x="465.1" y="14.2" width="67.50" height="9.20" fill="#fff" stroke="#a0a0a0" stroke-width="0.8"/>
<text x="469.6" y="21.1" font-size="7.0" font-weight="bold" fill="#f01818" stroke="#f01818" stroke-width="0.25" textLength="59.0" lengthAdjust="spacingAndGlyphs">850 nm (20 pairs)</text>
<g stroke="#f7b30a" fill="#f7b30a">
<path d="M373.7 15.4V31.0M416.0 15.4V31.0" stroke-width="1.6" fill="none"/>
<path d="M380.10 23.0H411.00" stroke-width="1.8" stroke-linecap="round" stroke-dasharray="0 3.6" fill="none"/>
<path d="M375.10 23.0l4.6 -2.3v4.6z M414.60 23.0l-4.6 -2.3v4.6z" stroke="none"/>
</g>
<text x="370.7" y="41.4" font-size="9.2" font-weight="bold" fill="#f7b30a" stroke="#f7b30a" stroke-width="0.2" textLength="47.6" lengthAdjust="spacingAndGlyphs">Peak band</text>
</g>
<g id="panel-c">
<clipPath id="clip-c"><rect x="29.5" y="232.0" width="227.80" height="168.00"/></clipPath>
<g clip-path="url(#clip-c)">
<polyline points="29.50,360.80 30.26,358.34 31.02,356.11 31.78,354.29 32.54,352.97 33.30,351.74 34.06,350.61 34.82,349.66 35.57,348.97 36.33,348.63 37.09,348.71 37.85,349.26 38.61,350.18 39.37,351.39 40.13,352.78 40.89,354.41 41.65,357.17 42.41,360.28 43.17,362.75 43.93,365.23 44.69,366.99 45.45,367.13 46.21,365.79 46.96,363.58 47.72,361.07 48.48,358.34 49.24,354.88 50.00,351.22 50.76,347.38 51.52,343.55 52.28,341.69 53.04,340.47 53.80,339.60 54.56,339.21 55.32,339.49 56.08,340.50 56.84,342.03 57.60,343.85 58.35,346.96 59.11,351.04 59.87,355.64 60.63,359.91 61.39,363.42 62.15,366.60 62.91,369.81 63.67,372.84 64.43,373.94 65.19,373.02 65.95,369.45 66.71,349.46 67.47,348.51 68.23,347.47 68.99,346.39 69.74,345.32 70.50,344.33 71.26,343.45 72.02,342.75 72.78,342.29 73.54,342.10 74.30,342.25 75.06,342.69 75.82,343.39 76.58,344.26 77.34,345.24 78.10,346.28 78.86,347.32 79.62,348.28 80.38,349.11 81.13,349.75 81.89,350.12 82.65,350.16 83.41,349.54 84.17,348.32 84.93,346.64 85.69,344.66 86.45,342.53 87.21,340.38 87.97,337.44 88.73,334.19 89.49,331.81 90.25,329.69 91.01,327.63 91.77,325.77 92.52,324.22 93.28,323.10 94.04,322.54 94.80,322.66 95.56,323.36 96.32,324.41 97.08,325.53 97.84,326.47 98.60,326.97 99.36,326.76 100.12,325.73 100.88,324.05 101.64,321.89 102.40,319.40 103.16,315.74 103.91,311.39 104.67,307.62 105.43,302.52 106.19,295.77 106.95,288.52 107.71,278.83 108.47,271.69 109.23,262.99 109.99,257.05 110.75,253.15 111.51,249.58 112.27,247.02 113.03,245.55 113.79,244.51 114.55,243.92 115.30,243.52 116.06,243.18 116.82,242.91 117.58,242.70 118.34,242.56 119.10,242.49 119.86,242.43 120.62,242.38 121.38,242.33 122.14,242.29 122.90,242.24 123.66,242.20 124.42,242.16 125.18,242.12 125.94,242.09 126.69,242.06 127.45,242.03 128.21,242.00 128.97,241.97 129.73,241.95 130.49,241.93 131.25,241.91 132.01,241.89 132.77,241.87 133.53,241.86 134.29,241.84 135.05,241.83 135.81,241.82 136.57,241.82 137.33,241.81 138.08,241.80 138.84,241.80 139.60,241.80 140.36,241.80 141.12,241.80 141.88,241.80 142.64,241.81 143.40,241.81 144.16,241.82 144.92,241.82 145.68,241.83 146.44,241.84 147.20,241.85 147.96,241.87 148.72,241.88 149.47,241.90 150.23,241.92 150.99,241.94 151.75,241.97 152.51,241.99 153.27,242.02 154.03,242.05 154.79,242.09 155.55,242.12 156.31,242.16 157.07,242.20 157.83,242.25 158.59,242.30 159.35,242.35 160.11,242.40 160.86,242.46 161.62,242.52 162.38,242.59 163.14,242.66 163.90,242.76 164.66,243.21 165.42,243.99 166.18,245.02 166.94,246.20 167.70,247.79 168.46,250.15 169.22,253.18 169.98,258.04 170.74,263.00 171.50,267.76 172.25,275.10 173.01,281.67 173.77,290.01 174.53,305.47 175.29,319.03 176.05,331.73 176.81,346.63 177.57,362.36 178.33,370.12 179.09,376.52 179.85,380.86 180.61,371.98 181.37,360.17 182.13,354.60 182.89,345.57 183.64,338.31 184.40,332.92 185.16,325.51 185.92,321.97 186.68,317.71 187.44,315.34 188.20,314.07 188.96,313.12 189.72,312.54 190.48,312.43 191.24,313.08 192.00,314.34 192.76,315.90 193.52,317.43 194.28,319.13 195.03,321.17 195.79,323.57 196.55,326.42 197.31,329.99 198.07,334.88 198.83,342.38 199.59,348.95 200.35,355.33 201.11,361.57 201.87,366.49 202.63,370.66 203.39,374.18 204.15,377.72 204.91,380.50 205.67,381.50 206.42,381.16 207.18,380.29 207.94,378.94 208.70,377.16 209.46,375.01 210.22,372.54 210.98,369.81 211.74,366.87 212.50,363.78 213.26,360.59 214.02,357.35 214.78,354.11 215.54,350.95 216.30,347.89 217.06,345.01 217.81,342.36 218.57,339.98 219.33,337.94 220.09,336.29 220.85,335.09 221.61,334.37 222.37,334.21 223.13,334.49 223.89,335.12 224.65,336.08 225.41,337.34 226.17,338.87 226.93,340.63 227.69,342.59 228.45,344.73 229.20,347.02 229.96,349.42 230.72,351.90 231.48,354.44 232.24,357.00 233.00,359.55 233.76,362.06 234.52,364.51 235.28,366.85 236.04,369.07 236.80,371.13 237.56,372.99 238.32,374.64 239.08,376.03 239.84,377.14 240.59,377.94 241.35,378.40 242.11,378.49 242.87,378.36 243.63,378.05 244.39,377.58 245.15,376.94 245.91,376.14 246.67,375.18 247.43,374.06 248.19,372.78 248.95,371.35 249.71,369.76 250.47,368.03 251.23,366.14 251.98,364.11 252.74,361.94 253.50,359.62 254.26,357.17 255.02,354.58 255.78,351.85 256.54,348.99 257.30,346.00" fill="none" stroke="#8a8a8a" stroke-width="0.6"/>
<path d="M27.95 359.25h3.1v3.1h-3.1zM28.71 356.79h3.1v3.1h-3.1zM29.47 354.56h3.1v3.1h-3.1zM30.23 352.74h3.1v3.1h-3.1zM30.99 351.42h3.1v3.1h-3.1zM31.75 350.19h3.1v3.1h-3.1zM32.51 349.06h3.1v3.1h-3.1zM33.27 348.11h3.1v3.1h-3.1zM34.02 347.42h3.1v3.1h-3.1zM34.78 347.08h3.1v3.1h-3.1zM35.54 347.16h3.1v3.1h-3.1zM36.30 347.71h3.1v3.1h-3.1zM37.06 348.63h3.1v3.1h-3.1zM37.82 349.84h3.1v3.1h-3.1zM38.58 351.23h3.1v3.1h-3.1zM39.34 352.86h3.1v3.1h-3.1zM40.10 355.62h3.1v3.1h-3.1zM40.86 358.73h3.1v3.1h-3.1zM41.62 361.20h3.1v3.1h-3.1zM42.38 363.68h3.1v3.1h-3.1zM43.14 365.44h3.1v3.1h-3.1zM43.90 365.58h3.1v3.1h-3.1zM44.66 364.24h3.1v3.1h-3.1zM45.41 362.03h3.1v3.1h-3.1zM46.17 359.52h3.1v3.1h-3.1zM46.93 356.79h3.1v3.1h-3.1zM47.69 353.33h3.1v3.1h-3.1zM48.45 349.67h3.1v3.1h-3.1zM49.21 345.83h3.1v3.1h-3.1zM49.97 342.00h3.1v3.1h-3.1zM50.73 340.14h3.1v3.1h-3.1zM51.49 338.92h3.1v3.1h-3.1zM52.25 338.05h3.1v3.1h-3.1zM53.01 337.66h3.1v3.1h-3.1zM53.77 337.94h3.1v3.1h-3.1zM54.53 338.95h3.1v3.1h-3.1zM55.29 340.48h3.1v3.1h-3.1zM56.05 342.30h3.1v3.1h-3.1zM56.80 345.41h3.1v3.1h-3.1zM57.56 349.49h3.1v3.1h-3.1zM58.32 354.09h3.1v3.1h-3.1zM59.08 358.36h3.1v3.1h-3.1zM59.84 361.87h3.1v3.1h-3.1zM60.60 365.05h3.1v3.1h-3.1zM61.36 368.26h3.1v3.1h-3.1zM62.12 371.29h3.1v3.1h-3.1zM62.88 372.39h3.1v3.1h-3.1zM63.64 371.47h3.1v3.1h-3.1zM64.40 367.90h3.1v3.1h-3.1zM65.16 347.91h3.1v3.1h-3.1zM65.92 346.96h3.1v3.1h-3.1zM66.68 345.92h3.1v3.1h-3.1zM67.44 344.84h3.1v3.1h-3.1zM68.19 343.77h3.1v3.1h-3.1zM68.95 342.78h3.1v3.1h-3.1zM69.71 341.90h3.1v3.1h-3.1zM70.47 341.20h3.1v3.1h-3.1zM71.23 340.74h3.1v3.1h-3.1zM71.99 340.55h3.1v3.1h-3.1zM72.75 340.70h3.1v3.1h-3.1zM73.51 341.14h3.1v3.1h-3.1zM74.27 341.84h3.1v3.1h-3.1zM75.03 342.71h3.1v3.1h-3.1zM75.79 343.69h3.1v3.1h-3.1zM76.55 344.73h3.1v3.1h-3.1zM77.31 345.77h3.1v3.1h-3.1zM78.07 346.73h3.1v3.1h-3.1zM78.83 347.56h3.1v3.1h-3.1zM79.58 348.20h3.1v3.1h-3.1zM80.34 348.57h3.1v3.1h-3.1zM81.10 348.61h3.1v3.1h-3.1zM81.86 347.99h3.1v3.1h-3.1zM82.62 346.77h3.1v3.1h-3.1zM83.38 345.09h3.1v3.1h-3.1zM84.14 343.11h3.1v3.1h-3.1zM84.90 340.98h3.1v3.1h-3.1zM85.66 338.83h3.1v3.1h-3.1zM86.42 335.89h3.1v3.1h-3.1zM87.18 332.64h3.1v3.1h-3.1zM87.94 330.26h3.1v3.1h-3.1zM88.70 328.14h3.1v3.1h-3.1zM89.46 326.08h3.1v3.1h-3.1zM90.22 324.22h3.1v3.1h-3.1zM90.97 322.67h3.1v3.1h-3.1zM91.73 321.55h3.1v3.1h-3.1zM92.49 320.99h3.1v3.1h-3.1zM93.25 321.11h3.1v3.1h-3.1zM94.01 321.81h3.1v3.1h-3.1zM94.77 322.86h3.1v3.1h-3.1zM95.53 323.98h3.1v3.1h-3.1zM96.29 324.92h3.1v3.1h-3.1zM97.05 325.42h3.1v3.1h-3.1zM97.81 325.21h3.1v3.1h-3.1zM98.57 324.18h3.1v3.1h-3.1zM99.33 322.50h3.1v3.1h-3.1zM100.09 320.34h3.1v3.1h-3.1zM100.85 317.85h3.1v3.1h-3.1zM101.61 314.19h3.1v3.1h-3.1zM102.36 309.84h3.1v3.1h-3.1zM103.12 306.07h3.1v3.1h-3.1zM103.88 300.97h3.1v3.1h-3.1zM104.64 294.22h3.1v3.1h-3.1zM105.40 286.97h3.1v3.1h-3.1zM106.16 277.28h3.1v3.1h-3.1zM106.92 270.14h3.1v3.1h-3.1zM107.68 261.44h3.1v3.1h-3.1zM108.44 255.50h3.1v3.1h-3.1zM109.20 251.60h3.1v3.1h-3.1zM109.96 248.03h3.1v3.1h-3.1zM110.72 245.47h3.1v3.1h-3.1zM111.48 244.00h3.1v3.1h-3.1zM112.24 242.96h3.1v3.1h-3.1zM113.00 242.37h3.1v3.1h-3.1zM113.75 241.97h3.1v3.1h-3.1zM114.51 241.63h3.1v3.1h-3.1zM115.27 241.36h3.1v3.1h-3.1zM116.03 241.15h3.1v3.1h-3.1zM116.79 241.01h3.1v3.1h-3.1zM117.55 240.94h3.1v3.1h-3.1zM118.31 240.88h3.1v3.1h-3.1zM119.07 240.83h3.1v3.1h-3.1zM119.83 240.78h3.1v3.1h-3.1zM120.59 240.74h3.1v3.1h-3.1zM121.35 240.69h3.1v3.1h-3.1zM122.11 240.65h3.1v3.1h-3.1zM122.87 240.61h3.1v3.1h-3.1zM123.63 240.57h3.1v3.1h-3.1zM124.39 240.54h3.1v3.1h-3.1zM125.14 240.51h3.1v3.1h-3.1zM125.90 240.48h3.1v3.1h-3.1zM126.66 240.45h3.1v3.1h-3.1zM127.42 240.42h3.1v3.1h-3.1zM128.18 240.40h3.1v3.1h-3.1zM128.94 240.38h3.1v3.1h-3.1zM129.70 240.36h3.1v3.1h-3.1zM130.46 240.34h3.1v3.1h-3.1zM131.22 240.32h3.1v3.1h-3.1zM131.98 240.31h3.1v3.1h-3.1zM132.74 240.29h3.1v3.1h-3.1zM133.50 240.28h3.1v3.1h-3.1zM134.26 240.27h3.1v3.1h-3.1zM135.02 240.27h3.1v3.1h-3.1zM135.78 240.26h3.1v3.1h-3.1zM136.53 240.25h3.1v3.1h-3.1zM137.29 240.25h3.1v3.1h-3.1zM138.05 240.25h3.1v3.1h-3.1zM138.81 240.25h3.1v3.1h-3.1zM139.57 240.25h3.1v3.1h-3.1zM140.33 240.25h3.1v3.1h-3.1zM141.09 240.26h3.1v3.1h-3.1zM141.85 240.26h3.1v3.1h-3.1zM142.61 240.27h3.1v3.1h-3.1zM143.37 240.27h3.1v3.1h-3.1zM144.13 240.28h3.1v3.1h-3.1zM144.89 240.29h3.1v3.1h-3.1zM145.65 240.30h3.1v3.1h-3.1zM146.41 240.32h3.1v3.1h-3.1zM147.17 240.33h3.1v3.1h-3.1zM147.92 240.35h3.1v3.1h-3.1zM148.68 240.37h3.1v3.1h-3.1zM149.44 240.39h3.1v3.1h-3.1zM150.20 240.42h3.1v3.1h-3.1zM150.96 240.44h3.1v3.1h-3.1zM151.72 240.47h3.1v3.1h-3.1zM152.48 240.50h3.1v3.1h-3.1zM153.24 240.54h3.1v3.1h-3.1zM154.00 240.57h3.1v3.1h-3.1zM154.76 240.61h3.1v3.1h-3.1zM155.52 240.65h3.1v3.1h-3.1zM156.28 240.70h3.1v3.1h-3.1zM157.04 240.75h3.1v3.1h-3.1zM157.80 240.80h3.1v3.1h-3.1zM158.56 240.85h3.1v3.1h-3.1zM159.31 240.91h3.1v3.1h-3.1zM160.07 240.97h3.1v3.1h-3.1zM160.83 241.04h3.1v3.1h-3.1zM161.59 241.11h3.1v3.1h-3.1zM162.35 241.21h3.1v3.1h-3.1zM163.11 241.66h3.1v3.1h-3.1zM163.87 242.44h3.1v3.1h-3.1zM164.63 243.47h3.1v3.1h-3.1zM165.39 244.65h3.1v3.1h-3.1zM166.15 246.24h3.1v3.1h-3.1zM166.91 248.60h3.1v3.1h-3.1zM167.67 251.63h3.1v3.1h-3.1zM168.43 256.49h3.1v3.1h-3.1zM169.19 261.45h3.1v3.1h-3.1zM169.95 266.21h3.1v3.1h-3.1zM170.70 273.55h3.1v3.1h-3.1zM171.46 280.12h3.1v3.1h-3.1zM172.22 288.46h3.1v3.1h-3.1zM172.98 303.92h3.1v3.1h-3.1zM173.74 317.48h3.1v3.1h-3.1zM174.50 330.18h3.1v3.1h-3.1zM175.26 345.08h3.1v3.1h-3.1zM176.02 360.81h3.1v3.1h-3.1zM176.78 368.57h3.1v3.1h-3.1zM177.54 374.97h3.1v3.1h-3.1zM178.30 379.31h3.1v3.1h-3.1zM179.06 370.43h3.1v3.1h-3.1zM179.82 358.62h3.1v3.1h-3.1zM180.58 353.05h3.1v3.1h-3.1zM181.34 344.02h3.1v3.1h-3.1zM182.09 336.76h3.1v3.1h-3.1zM182.85 331.37h3.1v3.1h-3.1zM183.61 323.96h3.1v3.1h-3.1zM184.37 320.42h3.1v3.1h-3.1zM185.13 316.16h3.1v3.1h-3.1zM185.89 313.79h3.1v3.1h-3.1zM186.65 312.52h3.1v3.1h-3.1zM187.41 311.57h3.1v3.1h-3.1zM188.17 310.99h3.1v3.1h-3.1zM188.93 310.88h3.1v3.1h-3.1zM189.69 311.53h3.1v3.1h-3.1zM190.45 312.79h3.1v3.1h-3.1zM191.21 314.35h3.1v3.1h-3.1zM191.97 315.88h3.1v3.1h-3.1zM192.73 317.58h3.1v3.1h-3.1zM193.48 319.62h3.1v3.1h-3.1zM194.24 322.02h3.1v3.1h-3.1zM195.00 324.87h3.1v3.1h-3.1zM195.76 328.44h3.1v3.1h-3.1zM196.52 333.33h3.1v3.1h-3.1zM197.28 340.83h3.1v3.1h-3.1zM198.04 347.40h3.1v3.1h-3.1zM198.80 353.78h3.1v3.1h-3.1zM199.56 360.02h3.1v3.1h-3.1zM200.32 364.94h3.1v3.1h-3.1zM201.08 369.11h3.1v3.1h-3.1zM201.84 372.63h3.1v3.1h-3.1zM202.60 376.17h3.1v3.1h-3.1zM203.36 378.95h3.1v3.1h-3.1zM204.12 379.95h3.1v3.1h-3.1zM204.87 379.61h3.1v3.1h-3.1zM205.63 378.74h3.1v3.1h-3.1zM206.39 377.39h3.1v3.1h-3.1zM207.15 375.61h3.1v3.1h-3.1zM207.91 373.46h3.1v3.1h-3.1zM208.67 370.99h3.1v3.1h-3.1zM209.43 368.26h3.1v3.1h-3.1zM210.19 365.32h3.1v3.1h-3.1zM210.95 362.23h3.1v3.1h-3.1zM211.71 359.04h3.1v3.1h-3.1zM212.47 355.80h3.1v3.1h-3.1zM213.23 352.56h3.1v3.1h-3.1zM213.99 349.40h3.1v3.1h-3.1zM214.75 346.34h3.1v3.1h-3.1zM215.51 343.46h3.1v3.1h-3.1zM216.26 340.81h3.1v3.1h-3.1zM217.02 338.43h3.1v3.1h-3.1zM217.78 336.39h3.1v3.1h-3.1zM218.54 334.74h3.1v3.1h-3.1zM219.30 333.54h3.1v3.1h-3.1zM220.06 332.82h3.1v3.1h-3.1zM220.82 332.66h3.1v3.1h-3.1zM221.58 332.94h3.1v3.1h-3.1zM222.34 333.57h3.1v3.1h-3.1zM223.10 334.53h3.1v3.1h-3.1zM223.86 335.79h3.1v3.1h-3.1zM224.62 337.32h3.1v3.1h-3.1zM225.38 339.08h3.1v3.1h-3.1zM226.14 341.04h3.1v3.1h-3.1zM226.90 343.18h3.1v3.1h-3.1zM227.65 345.47h3.1v3.1h-3.1zM228.41 347.87h3.1v3.1h-3.1zM229.17 350.35h3.1v3.1h-3.1zM229.93 352.89h3.1v3.1h-3.1zM230.69 355.45h3.1v3.1h-3.1zM231.45 358.00h3.1v3.1h-3.1zM232.21 360.51h3.1v3.1h-3.1zM232.97 362.96h3.1v3.1h-3.1zM233.73 365.30h3.1v3.1h-3.1zM234.49 367.52h3.1v3.1h-3.1zM235.25 369.58h3.1v3.1h-3.1zM236.01 371.44h3.1v3.1h-3.1zM236.77 373.09h3.1v3.1h-3.1zM237.53 374.48h3.1v3.1h-3.1zM238.29 375.59h3.1v3.1h-3.1zM239.04 376.39h3.1v3.1h-3.1zM239.80 376.85h3.1v3.1h-3.1zM240.56 376.94h3.1v3.1h-3.1zM241.32 376.81h3.1v3.1h-3.1zM242.08 376.50h3.1v3.1h-3.1zM242.84 376.03h3.1v3.1h-3.1zM243.60 375.39h3.1v3.1h-3.1zM244.36 374.59h3.1v3.1h-3.1zM245.12 373.63h3.1v3.1h-3.1zM245.88 372.51h3.1v3.1h-3.1zM246.64 371.23h3.1v3.1h-3.1zM247.40 369.80h3.1v3.1h-3.1zM248.16 368.21h3.1v3.1h-3.1zM248.92 366.48h3.1v3.1h-3.1zM249.68 364.59h3.1v3.1h-3.1zM250.43 362.56h3.1v3.1h-3.1zM251.19 360.39h3.1v3.1h-3.1zM251.95 358.07h3.1v3.1h-3.1zM252.71 355.62h3.1v3.1h-3.1zM253.47 353.03h3.1v3.1h-3.1zM254.23 350.30h3.1v3.1h-3.1zM254.99 347.44h3.1v3.1h-3.1zM255.75 344.45h3.1v3.1h-3.1z" fill="#870092"/>
</g>
<rect x="29.5" y="232.0" width="227.80" height="168.00" fill="none" stroke="#505050" stroke-width="1.2"/>
<path d="M29.50 400.00h3.4M29.50 391.60h1.8M29.50 383.20h3.4M29.50 374.80h1.8M29.50 366.40h3.4M29.50 358.00h1.8M29.50 349.60h3.4M29.50 341.20h1.8M29.50 332.80h3.4M29.50 324.40h1.8M29.50 316.00h3.4M29.50 307.60h1.8M29.50 299.20h3.4M29.50 290.80h1.8M29.50 282.40h3.4M29.50 274.00h1.8M29.50 265.60h3.4M29.50 257.20h1.8M29.50 248.80h3.4M29.50 240.40h1.8M29.50 400.00v-3.2M48.48 400.00v-1.6M67.47 400.00v-3.2M86.45 400.00v-1.6M105.43 400.00v-3.2M124.42 400.00v-1.6M143.40 400.00v-3.2M162.38 400.00v-1.6M181.37 400.00v-3.2M200.35 400.00v-1.6M219.33 400.00v-3.2M238.32 400.00v-1.6M257.30 400.00v-3.2" stroke="#505050" stroke-width="1" fill="none"/>
<g font-size="6.3" font-weight="bold" fill="#1c1c1c" stroke="#1c1c1c" stroke-width="0.28">
<text x="25.10" y="402.20" text-anchor="end">0</text>
<text x="25.10" y="385.40" text-anchor="end">10</text>
<text x="25.10" y="368.60" text-anchor="end">20</text>
<text x="25.10" y="351.80" text-anchor="end">30</text>
<text x="25.10" y="335.00" text-anchor="end">40</text>
<text x="25.10" y="318.20" text-anchor="end">50</text>
<text x="25.10" y="301.40" text-anchor="end">60</text>
<text x="25.10" y="284.60" text-anchor="end">70</text>
<text x="25.10" y="267.80" text-anchor="end">80</text>
<text x="25.10" y="251.00" text-anchor="end">90</text>
<text x="25.10" y="234.20" text-anchor="end">100</text>
<text x="29.50" y="409.00" text-anchor="middle">750</text>
<text x="67.47" y="409.00" text-anchor="middle">800</text>
<text x="105.43" y="409.00" text-anchor="middle">850</text>
<text x="143.40" y="409.00" text-anchor="middle">900</text>
<text x="181.37" y="409.00" text-anchor="middle">950</text>
<text x="219.33" y="409.00" text-anchor="middle">1000</text>
<text x="257.30" y="409.00" text-anchor="middle">1050</text>
</g>
<text x="110.9" y="418.70" font-size="7.4" font-weight="bold" fill="#1c1c1c" stroke="#1c1c1c" stroke-width="0.45" textLength="65.0" lengthAdjust="spacingAndGlyphs">Wavelength [nm]</text>
<text transform="translate(13.00,321.30) rotate(-90)" x="0" y="0" font-size="8.4" font-weight="bold" fill="#1c1c1c" stroke="#1c1c1c" stroke-width="0.35" text-anchor="middle" textLength="59.5" lengthAdjust="spacingAndGlyphs">Reflectivity [%]</text>
<text x="127.3" y="434.6" font-size="11" font-weight="bold" fill="#262626" stroke="#262626" stroke-width="0.3" textLength="12.6" lengthAdjust="spacingAndGlyphs">(c)</text>
<rect x="190.9" y="234.1" width="61.80" height="9.60" fill="#fff" stroke="#a0a0a0" stroke-width="0.8"/>
<text x="192.8" y="241.8" font-size="6.8" font-weight="bold" fill="#8a108f" stroke="#8a108f" stroke-width="0.25" textLength="59.2" lengthAdjust="spacingAndGlyphs">900 nm (20 pairs)</text>
<g stroke="#f7b30a" fill="#f7b30a">
<path d="M114.5 237.6V251.0M167.0 237.6V251.0" stroke-width="1.6" fill="none"/>
<path d="M120.90 245.0H162.00" stroke-width="1.8" stroke-linecap="round" stroke-dasharray="0 3.6" fill="none"/>
<path d="M115.90 245.0l4.6 -2.3v4.6z M165.60 245.0l-4.6 -2.3v4.6z" stroke="none"/>
</g>
<text x="115.8" y="258.6" font-size="8.6" font-weight="bold" fill="#f7b30a" stroke="#f7b30a" stroke-width="0.2" textLength="47.1" lengthAdjust="spacingAndGlyphs">Peak band</text>
</g>
<g id="panel-d">
<clipPath id="clip-d"><rect x="310.5" y="231.5" width="228.90" height="168.50"/></clipPath>
<g clip-path="url(#clip-d)">
<polyline points="310.50,349.00 311.26,349.03 312.03,349.08 312.79,349.15 313.55,349.24 314.31,349.35 315.08,349.54 315.84,349.80 316.60,350.10 317.37,350.42 318.13,350.72 318.89,350.97 319.66,351.14 320.42,351.20 321.18,351.13 321.94,350.96 322.71,350.70 323.47,350.38 324.23,350.03 325.00,349.66 325.76,349.32 326.52,349.02 327.29,348.78 328.05,348.63 328.81,348.61 329.57,348.74 330.34,349.03 331.10,349.43 331.86,349.92 332.63,350.45 333.39,351.01 334.15,351.56 334.92,352.06 335.68,352.48 336.44,352.80 337.20,352.98 337.97,352.96 338.73,352.64 339.49,352.06 340.26,351.28 341.02,350.39 341.78,349.43 342.55,348.49 343.31,347.63 344.07,346.91 344.83,346.42 345.60,346.20 346.36,346.40 347.12,347.08 347.89,348.11 348.65,349.38 349.41,350.78 350.18,352.18 350.94,353.47 351.70,354.54 352.46,355.25 353.23,355.50 353.99,355.14 354.75,354.18 355.52,352.76 356.28,350.99 357.04,349.01 357.81,346.92 358.57,344.86 359.33,342.95 360.09,341.31 360.86,340.06 361.62,339.34 362.38,339.28 363.15,340.22 363.91,342.04 364.67,344.51 365.44,347.39 366.20,350.45 366.96,353.47 367.73,356.22 368.49,358.46 369.25,359.96 370.01,360.50 370.78,359.96 371.54,358.50 372.30,356.31 373.07,353.58 373.83,350.50 374.59,347.26 375.36,344.03 376.12,341.02 376.88,338.40 377.64,336.37 378.41,335.12 379.17,334.83 379.93,335.78 380.70,337.82 381.46,340.72 382.22,344.21 382.99,348.07 383.75,352.02 384.51,355.83 385.27,359.24 386.04,362.00 386.80,363.87 387.56,364.60 388.33,364.05 389.09,362.41 389.85,359.88 390.62,356.65 391.38,352.91 392.14,348.86 392.90,344.69 393.67,340.60 394.43,336.78 395.19,333.43 395.96,330.74 396.72,328.90 397.48,328.12 398.25,328.39 399.01,329.42 399.77,331.09 400.53,333.29 401.30,335.91 402.06,338.86 402.82,344.42 403.59,349.74 404.35,354.22 405.11,358.93 405.88,363.37 406.64,367.19 407.40,368.76 408.16,366.38 408.93,362.37 409.69,357.91 410.45,352.78 411.22,347.37 411.98,340.37 412.74,334.03 413.50,328.58 414.27,323.99 415.03,320.33 415.79,316.03 416.56,312.55 417.32,311.16 418.08,310.51 418.85,310.87 419.61,312.14 420.37,314.34 421.13,319.59 421.90,323.61 422.66,325.29 423.42,323.92 424.19,321.72 424.95,319.21 425.71,316.52 426.48,312.85 427.24,309.77 428.00,306.03 428.76,301.49 429.53,297.12 430.29,292.81 431.05,287.57 431.82,282.89 432.58,279.00 433.34,274.41 434.11,268.15 434.87,263.15 435.63,260.58 436.39,257.52 437.16,254.47 437.92,251.34 438.68,248.67 439.45,246.51 440.21,244.28 440.97,242.26 441.74,240.81 442.50,239.70 443.26,239.01 444.02,238.44 444.79,237.98 445.55,237.69 446.31,237.57 447.08,237.49 447.84,237.42 448.60,237.35 449.37,237.30 450.13,237.25 450.89,237.21 451.65,237.18 452.42,237.15 453.18,237.13 453.94,237.11 454.71,237.10 455.47,237.10 456.23,237.13 457.00,237.22 457.76,237.36 458.52,237.53 459.28,237.74 460.05,237.95 460.81,238.17 461.57,238.39 462.34,238.58 463.10,238.77 463.86,238.96 464.63,239.14 465.39,239.35 466.15,239.57 466.91,239.82 467.68,240.10 468.44,240.43 469.20,240.81 469.97,241.30 470.73,241.93 471.49,242.71 472.26,243.67 473.02,244.81 473.78,246.18 474.54,248.59 475.31,251.75 476.07,254.88 476.83,258.02 477.60,261.68 478.36,266.61 479.12,271.63 479.89,276.31 480.65,280.62 481.41,288.60 482.17,296.66 482.94,306.13 483.70,318.11 484.46,327.84 485.23,337.57 485.99,344.05 486.75,349.83 487.52,355.07 488.28,360.21 489.04,360.13 489.80,355.90 490.57,350.94 491.33,345.34 492.09,339.65 492.86,334.74 493.62,330.95 494.38,327.44 495.15,323.75 495.91,321.27 496.67,319.73 497.43,318.43 498.20,317.49 498.96,317.03 499.72,317.21 500.49,318.13 501.25,319.57 502.01,321.30 502.78,323.76 503.54,327.38 504.30,331.24 505.06,334.87 505.83,338.63 506.59,342.45 507.35,346.44 508.12,350.53 508.88,354.21 509.64,357.42 510.41,360.38 511.17,362.98 511.93,365.12 512.69,367.23 513.46,369.06 514.22,370.11 514.98,370.09 515.75,369.51 516.51,368.47 517.27,367.02 518.04,365.23 518.80,363.13 519.56,360.79 520.33,358.26 521.09,355.59 521.85,352.84 522.61,350.05 523.38,347.29 524.14,344.60 524.90,342.04 525.67,339.66 526.43,337.52 527.19,335.67 527.95,334.16 528.72,333.04 529.48,332.37 530.24,332.21 531.01,332.40 531.77,332.86 532.53,333.59 533.30,334.58 534.06,335.80 534.82,337.27 535.59,338.95 536.35,340.85 537.11,342.95 537.87,345.25 538.64,347.74 539.40,350.40" fill="none" stroke="#8a8a8a" stroke-width="0.6"/>
<path d="M308.90 347.40h3.2v3.2h-3.2zM309.66 347.43h3.2v3.2h-3.2zM310.43 347.48h3.2v3.2h-3.2zM311.19 347.55h3.2v3.2h-3.2zM311.95 347.64h3.2v3.2h-3.2zM312.71 347.75h3.2v3.2h-3.2zM313.48 347.94h3.2v3.2h-3.2zM314.24 348.20h3.2v3.2h-3.2zM315.00 348.50h3.2v3.2h-3.2zM315.77 348.82h3.2v3.2h-3.2zM316.53 349.12h3.2v3.2h-3.2zM317.29 349.37h3.2v3.2h-3.2zM318.06 349.54h3.2v3.2h-3.2zM318.82 349.60h3.2v3.2h-3.2zM319.58 349.53h3.2v3.2h-3.2zM320.34 349.36h3.2v3.2h-3.2zM321.11 349.10h3.2v3.2h-3.2zM321.87 348.78h3.2v3.2h-3.2zM322.63 348.43h3.2v3.2h-3.2zM323.40 348.06h3.2v3.2h-3.2zM324.16 347.72h3.2v3.2h-3.2zM324.92 347.42h3.2v3.2h-3.2zM325.69 347.18h3.2v3.2h-3.2zM326.45 347.03h3.2v3.2h-3.2zM327.21 347.01h3.2v3.2h-3.2zM327.97 347.14h3.2v3.2h-3.2zM328.74 347.43h3.2v3.2h-3.2zM329.50 347.83h3.2v3.2h-3.2zM330.26 348.32h3.2v3.2h-3.2zM331.03 348.85h3.2v3.2h-3.2zM331.79 349.41h3.2v3.2h-3.2zM332.55 349.96h3.2v3.2h-3.2zM333.32 350.46h3.2v3.2h-3.2zM334.08 350.88h3.2v3.2h-3.2zM334.84 351.20h3.2v3.2h-3.2zM335.60 351.38h3.2v3.2h-3.2zM336.37 351.36h3.2v3.2h-3.2zM337.13 351.04h3.2v3.2h-3.2zM337.89 350.46h3.2v3.2h-3.2zM338.66 349.68h3.2v3.2h-3.2zM339.42 348.79h3.2v3.2h-3.2zM340.18 347.83h3.2v3.2h-3.2zM340.95 346.89h3.2v3.2h-3.2zM341.71 346.03h3.2v3.2h-3.2zM342.47 345.31h3.2v3.2h-3.2zM343.23 344.82h3.2v3.2h-3.2zM344.00 344.60h3.2v3.2h-3.2zM344.76 344.80h3.2v3.2h-3.2zM345.52 345.48h3.2v3.2h-3.2zM346.29 346.51h3.2v3.2h-3.2zM347.05 347.78h3.2v3.2h-3.2zM347.81 349.18h3.2v3.2h-3.2zM348.58 350.58h3.2v3.2h-3.2zM349.34 351.87h3.2v3.2h-3.2zM350.10 352.94h3.2v3.2h-3.2zM350.86 353.65h3.2v3.2h-3.2zM351.63 353.90h3.2v3.2h-3.2zM352.39 353.54h3.2v3.2h-3.2zM353.15 352.58h3.2v3.2h-3.2zM353.92 351.16h3.2v3.2h-3.2zM354.68 349.39h3.2v3.2h-3.2zM355.44 347.41h3.2v3.2h-3.2zM356.21 345.32h3.2v3.2h-3.2zM356.97 343.26h3.2v3.2h-3.2zM357.73 341.35h3.2v3.2h-3.2zM358.49 339.71h3.2v3.2h-3.2zM359.26 338.46h3.2v3.2h-3.2zM360.02 337.74h3.2v3.2h-3.2zM360.78 337.68h3.2v3.2h-3.2zM361.55 338.62h3.2v3.2h-3.2zM362.31 340.44h3.2v3.2h-3.2zM363.07 342.91h3.2v3.2h-3.2zM363.84 345.79h3.2v3.2h-3.2zM364.60 348.85h3.2v3.2h-3.2zM365.36 351.87h3.2v3.2h-3.2zM366.12 354.62h3.2v3.2h-3.2zM366.89 356.86h3.2v3.2h-3.2zM367.65 358.36h3.2v3.2h-3.2zM368.41 358.90h3.2v3.2h-3.2zM369.18 358.36h3.2v3.2h-3.2zM369.94 356.90h3.2v3.2h-3.2zM370.70 354.71h3.2v3.2h-3.2zM371.47 351.98h3.2v3.2h-3.2zM372.23 348.90h3.2v3.2h-3.2zM372.99 345.66h3.2v3.2h-3.2zM373.75 342.43h3.2v3.2h-3.2zM374.52 339.42h3.2v3.2h-3.2zM375.28 336.80h3.2v3.2h-3.2zM376.04 334.77h3.2v3.2h-3.2zM376.81 333.52h3.2v3.2h-3.2zM377.57 333.23h3.2v3.2h-3.2zM378.33 334.18h3.2v3.2h-3.2zM379.10 336.22h3.2v3.2h-3.2zM379.86 339.12h3.2v3.2h-3.2zM380.62 342.61h3.2v3.2h-3.2zM381.38 346.47h3.2v3.2h-3.2zM382.15 350.42h3.2v3.2h-3.2zM382.91 354.23h3.2v3.2h-3.2zM383.67 357.64h3.2v3.2h-3.2zM384.44 360.40h3.2v3.2h-3.2zM385.20 362.27h3.2v3.2h-3.2zM385.96 363.00h3.2v3.2h-3.2zM386.73 362.45h3.2v3.2h-3.2zM387.49 360.81h3.2v3.2h-3.2zM388.25 358.28h3.2v3.2h-3.2zM389.01 355.05h3.2v3.2h-3.2zM389.78 351.31h3.2v3.2h-3.2zM390.54 347.26h3.2v3.2h-3.2zM391.30 343.09h3.2v3.2h-3.2zM392.07 339.00h3.2v3.2h-3.2zM392.83 335.18h3.2v3.2h-3.2zM393.59 331.83h3.2v3.2h-3.2zM394.36 329.14h3.2v3.2h-3.2zM395.12 327.30h3.2v3.2h-3.2zM395.88 326.52h3.2v3.2h-3.2zM396.64 326.79h3.2v3.2h-3.2zM397.41 327.82h3.2v3.2h-3.2zM398.17 329.49h3.2v3.2h-3.2zM398.93 331.69h3.2v3.2h-3.2zM399.70 334.31h3.2v3.2h-3.2zM400.46 337.26h3.2v3.2h-3.2zM401.22 342.82h3.2v3.2h-3.2zM401.99 348.14h3.2v3.2h-3.2zM402.75 352.62h3.2v3.2h-3.2zM403.51 357.33h3.2v3.2h-3.2zM404.27 361.77h3.2v3.2h-3.2zM405.04 365.59h3.2v3.2h-3.2zM405.80 367.16h3.2v3.2h-3.2zM406.56 364.78h3.2v3.2h-3.2zM407.33 360.77h3.2v3.2h-3.2zM408.09 356.31h3.2v3.2h-3.2zM408.85 351.18h3.2v3.2h-3.2zM409.62 345.77h3.2v3.2h-3.2zM410.38 338.77h3.2v3.2h-3.2zM411.14 332.43h3.2v3.2h-3.2zM411.90 326.98h3.2v3.2h-3.2zM412.67 322.39h3.2v3.2h-3.2zM413.43 318.73h3.2v3.2h-3.2zM414.19 314.43h3.2v3.2h-3.2zM414.96 310.95h3.2v3.2h-3.2zM415.72 309.56h3.2v3.2h-3.2zM416.48 308.91h3.2v3.2h-3.2zM417.25 309.27h3.2v3.2h-3.2zM418.01 310.54h3.2v3.2h-3.2zM418.77 312.74h3.2v3.2h-3.2zM419.53 317.99h3.2v3.2h-3.2zM420.30 322.01h3.2v3.2h-3.2zM421.06 323.69h3.2v3.2h-3.2zM421.82 322.32h3.2v3.2h-3.2zM422.59 320.12h3.2v3.2h-3.2zM423.35 317.61h3.2v3.2h-3.2zM424.11 314.92h3.2v3.2h-3.2zM424.88 311.25h3.2v3.2h-3.2zM425.64 308.17h3.2v3.2h-3.2zM426.40 304.43h3.2v3.2h-3.2zM427.16 299.89h3.2v3.2h-3.2zM427.93 295.52h3.2v3.2h-3.2zM428.69 291.21h3.2v3.2h-3.2zM429.45 285.97h3.2v3.2h-3.2zM430.22 281.29h3.2v3.2h-3.2zM430.98 277.40h3.2v3.2h-3.2zM431.74 272.81h3.2v3.2h-3.2zM432.51 266.55h3.2v3.2h-3.2zM433.27 261.55h3.2v3.2h-3.2zM434.03 258.98h3.2v3.2h-3.2zM434.79 255.92h3.2v3.2h-3.2zM435.56 252.87h3.2v3.2h-3.2zM436.32 249.74h3.2v3.2h-3.2zM437.08 247.07h3.2v3.2h-3.2zM437.85 244.91h3.2v3.2h-3.2zM438.61 242.68h3.2v3.2h-3.2zM439.37 240.66h3.2v3.2h-3.2zM440.14 239.21h3.2v3.2h-3.2zM440.90 238.10h3.2v3.2h-3.2zM441.66 237.41h3.2v3.2h-3.2zM442.42 236.84h3.2v3.2h-3.2zM443.19 236.38h3.2v3.2h-3.2zM443.95 236.09h3.2v3.2h-3.2zM444.71 235.97h3.2v3.2h-3.2zM445.48 235.89h3.2v3.2h-3.2zM446.24 235.82h3.2v3.2h-3.2zM447.00 235.75h3.2v3.2h-3.2zM447.77 235.70h3.2v3.2h-3.2zM448.53 235.65h3.2v3.2h-3.2zM449.29 235.61h3.2v3.2h-3.2zM450.05 235.58h3.2v3.2h-3.2zM450.82 235.55h3.2v3.2h-3.2zM451.58 235.53h3.2v3.2h-3.2zM452.34 235.51h3.2v3.2h-3.2zM453.11 235.50h3.2v3.2h-3.2zM453.87 235.50h3.2v3.2h-3.2zM454.63 235.53h3.2v3.2h-3.2zM455.40 235.62h3.2v3.2h-3.2zM456.16 235.76h3.2v3.2h-3.2zM456.92 235.93h3.2v3.2h-3.2zM457.68 236.14h3.2v3.2h-3.2zM458.45 236.35h3.2v3.2h-3.2zM459.21 236.57h3.2v3.2h-3.2zM459.97 236.79h3.2v3.2h-3.2zM460.74 236.98h3.2v3.2h-3.2zM461.50 237.17h3.2v3.2h-3.2zM462.26 237.36h3.2v3.2h-3.2zM463.03 237.54h3.2v3.2h-3.2zM463.79 237.75h3.2v3.2h-3.2zM464.55 237.97h3.2v3.2h-3.2zM465.31 238.22h3.2v3.2h-3.2zM466.08 238.50h3.2v3.2h-3.2zM466.84 238.83h3.2v3.2h-3.2zM467.60 239.21h3.2v3.2h-3.2zM468.37 239.70h3.2v3.2h-3.2zM469.13 240.33h3.2v3.2h-3.2zM469.89 241.11h3.2v3.2h-3.2zM470.66 242.07h3.2v3.2h-3.2zM471.42 243.21h3.2v3.2h-3.2zM472.18 244.58h3.2v3.2h-3.2zM472.94 246.99h3.2v3.2h-3.2zM473.71 250.15h3.2v3.2h-3.2zM474.47 253.28h3.2v3.2h-3.2zM475.23 256.42h3.2v3.2h-3.2zM476.00 260.08h3.2v3.2h-3.2zM476.76 265.01h3.2v3.2h-3.2zM477.52 270.03h3.2v3.2h-3.2zM478.29 274.71h3.2v3.2h-3.2zM479.05 279.02h3.2v3.2h-3.2zM479.81 287.00h3.2v3.2h-3.2zM480.57 295.06h3.2v3.2h-3.2zM481.34 304.53h3.2v3.2h-3.2zM482.10 316.51h3.2v3.2h-3.2zM482.86 326.24h3.2v3.2h-3.2zM483.63 335.97h3.2v3.2h-3.2zM484.39 342.45h3.2v3.2h-3.2zM485.15 348.23h3.2v3.2h-3.2zM485.92 353.47h3.2v3.2h-3.2zM486.68 358.61h3.2v3.2h-3.2zM487.44 358.53h3.2v3.2h-3.2zM488.20 354.30h3.2v3.2h-3.2zM488.97 349.34h3.2v3.2h-3.2zM489.73 343.74h3.2v3.2h-3.2zM490.49 338.05h3.2v3.2h-3.2zM491.26 333.14h3.2v3.2h-3.2zM492.02 329.35h3.2v3.2h-3.2zM492.78 325.84h3.2v3.2h-3.2zM493.55 322.15h3.2v3.2h-3.2zM494.31 319.67h3.2v3.2h-3.2zM495.07 318.13h3.2v3.2h-3.2zM495.83 316.83h3.2v3.2h-3.2zM496.60 315.89h3.2v3.2h-3.2zM497.36 315.43h3.2v3.2h-3.2zM498.12 315.61h3.2v3.2h-3.2zM498.89 316.53h3.2v3.2h-3.2zM499.65 317.97h3.2v3.2h-3.2zM500.41 319.70h3.2v3.2h-3.2zM501.18 322.16h3.2v3.2h-3.2zM501.94 325.78h3.2v3.2h-3.2zM502.70 329.64h3.2v3.2h-3.2zM503.46 333.27h3.2v3.2h-3.2zM504.23 337.03h3.2v3.2h-3.2zM504.99 340.85h3.2v3.2h-3.2zM505.75 344.84h3.2v3.2h-3.2zM506.52 348.93h3.2v3.2h-3.2zM507.28 352.61h3.2v3.2h-3.2zM508.04 355.82h3.2v3.2h-3.2zM508.81 358.78h3.2v3.2h-3.2zM509.57 361.38h3.2v3.2h-3.2zM510.33 363.52h3.2v3.2h-3.2zM511.09 365.63h3.2v3.2h-3.2zM511.86 367.46h3.2v3.2h-3.2zM512.62 368.51h3.2v3.2h-3.2zM513.38 368.49h3.2v3.2h-3.2zM514.15 367.91h3.2v3.2h-3.2zM514.91 366.87h3.2v3.2h-3.2zM515.67 365.42h3.2v3.2h-3.2zM516.44 363.63h3.2v3.2h-3.2zM517.20 361.53h3.2v3.2h-3.2zM517.96 359.19h3.2v3.2h-3.2zM518.73 356.66h3.2v3.2h-3.2zM519.49 353.99h3.2v3.2h-3.2zM520.25 351.24h3.2v3.2h-3.2zM521.01 348.45h3.2v3.2h-3.2zM521.78 345.69h3.2v3.2h-3.2zM522.54 343.00h3.2v3.2h-3.2zM523.30 340.44h3.2v3.2h-3.2zM524.07 338.06h3.2v3.2h-3.2zM524.83 335.92h3.2v3.2h-3.2zM525.59 334.07h3.2v3.2h-3.2zM526.35 332.56h3.2v3.2h-3.2zM527.12 331.44h3.2v3.2h-3.2zM527.88 330.77h3.2v3.2h-3.2zM528.64 330.61h3.2v3.2h-3.2zM529.41 330.80h3.2v3.2h-3.2zM530.17 331.26h3.2v3.2h-3.2zM530.93 331.99h3.2v3.2h-3.2zM531.70 332.98h3.2v3.2h-3.2zM532.46 334.20h3.2v3.2h-3.2zM533.22 335.67h3.2v3.2h-3.2zM533.99 337.35h3.2v3.2h-3.2zM534.75 339.25h3.2v3.2h-3.2zM535.51 341.35h3.2v3.2h-3.2zM536.27 343.65h3.2v3.2h-3.2zM537.04 346.14h3.2v3.2h-3.2zM537.80 348.80h3.2v3.2h-3.2z" fill="#058805"/>
</g>
<rect x="310.5" y="231.5" width="228.90" height="168.50" fill="none" stroke="#505050" stroke-width="1.2"/>
<path d="M310.50 400.00h3.4M310.50 391.56h1.8M310.50 383.12h3.4M310.50 374.68h1.8M310.50 366.24h3.4M310.50 357.80h1.8M310.50 349.36h3.4M310.50 340.92h1.8M310.50 332.48h3.4M310.50 324.04h1.8M310.50 315.60h3.4M310.50 307.16h1.8M310.50 298.72h3.4M310.50 290.28h1.8M310.50 281.84h3.4M310.50 273.40h1.8M310.50 264.96h3.4M310.50 256.52h1.8M310.50 248.08h3.4M310.50 239.64h1.8M310.50 400.00v-3.2M329.57 400.00v-1.6M348.65 400.00v-3.2M367.73 400.00v-1.6M386.80 400.00v-3.2M405.88 400.00v-1.6M424.95 400.00v-3.2M444.02 400.00v-1.6M463.10 400.00v-3.2M482.17 400.00v-1.6M501.25 400.00v-3.2M520.33 400.00v-1.6M539.40 400.00v-3.2" stroke="#505050" stroke-width="1" fill="none"/>
<g font-size="6.3" font-weight="bold" fill="#1c1c1c" stroke="#1c1c1c" stroke-width="0.28">
<text x="306.10" y="402.20" text-anchor="end">0</text>
<text x="306.10" y="385.32" text-anchor="end">10</text>
<text x="306.10" y="368.44" text-anchor="end">20</text>
<text x="306.10" y="351.56" text-anchor="end">30</text>
<text x="306.10" y="334.68" text-anchor="end">40</text>
<text x="306.10" y="317.80" text-anchor="end">50</text>
<text x="306.10" y="300.92" text-anchor="end">60</text>
<text x="306.10" y="284.04" text-anchor="end">70</text>
<text x="306.10" y="267.16" text-anchor="end">80</text>
<text x="306.10" y="250.28" text-anchor="end">90</text>
<text x="306.10" y="233.40" text-anchor="end">100</text>
<text x="310.50" y="409.00" text-anchor="middle">750</text>
<text x="348.65" y="409.00" text-anchor="middle">800</text>
<text x="386.80" y="409.00" text-anchor="middle">850</text>
<text x="424.95" y="409.00" text-anchor="middle">900</text>
<text x="463.10" y="409.00" text-anchor="middle">950</text>
<text x="501.25" y="409.00" text-anchor="middle">1000</text>
<text x="539.40" y="409.00" text-anchor="middle">1050</text>
</g>
<text x="391.9" y="418.80" font-size="7.4" font-weight="bold" fill="#1c1c1c" stroke="#1c1c1c" stroke-width="0.45" textLength="65.2" lengthAdjust="spacingAndGlyphs">Wavelength [nm]</text>
<text transform="translate(294.20,321.20) rotate(-90)" x="0" y="0" font-size="8.4" font-weight="bold" fill="#1c1c1c" stroke="#1c1c1c" stroke-width="0.35" text-anchor="middle" textLength="59.3" lengthAdjust="spacingAndGlyphs">Reflectivity [%]</text>
<text x="416.6" y="434.7" font-size="11" font-weight="bold" fill="#262626" stroke="#262626" stroke-width="0.3" textLength="14.6" lengthAdjust="spacingAndGlyphs">(d)</text>
<rect x="478.1" y="233.9" width="60.60" height="8.00" fill="#fff" stroke="#a0a0a0" stroke-width="0.8"/>
<text x="482.0" y="240.1" font-size="6.0" font-weight="bold" fill="#168a16" stroke="#168a16" stroke-width="0.25" textLength="51.5" lengthAdjust="spacingAndGlyphs">950 nm (20 pairs)</text>
<g stroke="#f7b30a" fill="#f7b30a">
<path d="M441.9 234.9V249.0M470.9 234.9V249.0" stroke-width="1.6" fill="none"/>
<path d="M448.30 241.3H465.90" stroke-width="1.8" stroke-linecap="round" stroke-dasharray="0 3.6" fill="none"/>
<path d="M443.30 241.3l4.6 -2.3v4.6z M469.50 241.3l-4.6 -2.3v4.6z" stroke="none"/>
</g>
<text x="435.3" y="259.0" font-size="9.2" font-weight="bold" fill="#f7b30a" stroke="#f7b30a" stroke-width="0.2" textLength="47.7" lengthAdjust="spacingAndGlyphs">Peak band</text>
</g>
</svg></body></html>
